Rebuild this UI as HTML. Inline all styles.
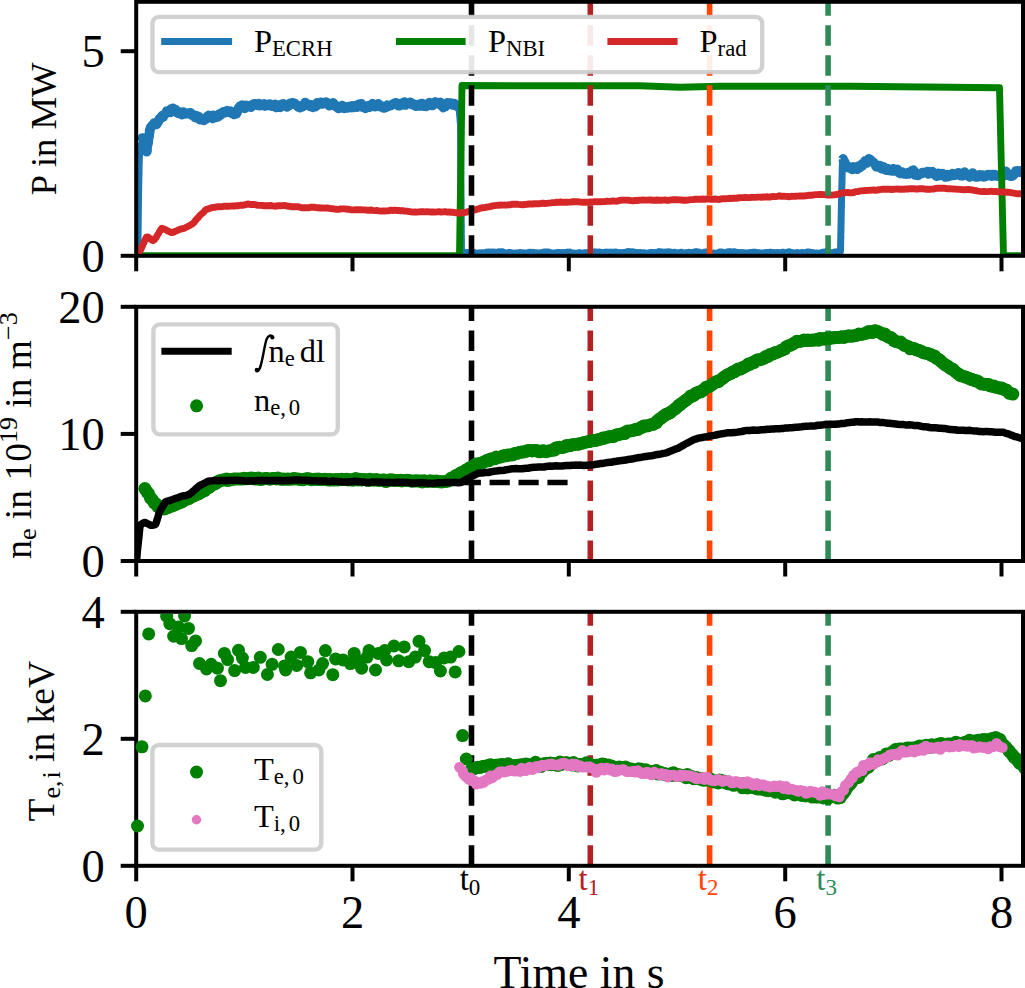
<!DOCTYPE html><html><head><meta charset="utf-8"><style>html,body{margin:0;padding:0;background:#fff;overflow:hidden}svg{display:block}</style></head><body><svg width="1025" height="988" viewBox="0 0 1025 988">
<rect width="1025" height="988" fill="#ffffff"/>
<defs>
<clipPath id="c0"><rect x="136.2" y="1.8" width="886.8" height="254.0"/></clipPath>
<clipPath id="c1"><rect x="136.2" y="306.8" width="886.8" height="254.2"/></clipPath>
<clipPath id="c2"><rect x="136.2" y="611.8" width="886.8" height="254.0"/></clipPath>
</defs>
<g clip-path="url(#c0)" fill="none" stroke-linejoin="round" stroke-linecap="butt">
<path d="M139.7,142.1 L140.6,141.6 L141.4,140.3 L142.3,137.9 L143.0,138.0 L143.3,141.5 L143.6,140.3 L143.9,145.3 L144.2,146.6 L144.5,146.5 L144.8,146.3 L145.1,146.4 L145.4,146.6 L145.7,147.5 L146.0,147.9 L146.3,148.9 L146.6,151.8 L146.8,151.6 L146.9,150.8 L147.1,151.2 L147.2,146.9 L147.4,145.2 L147.5,145.7 L147.7,143.1 L147.8,142.8 L148.0,144.0 L148.1,142.6 L148.3,142.6 L148.4,140.2 L148.6,138.7 L148.7,137.7 L148.8,136.3 L149.0,135.0 L149.1,135.3 L149.2,136.5 L149.4,133.6 L149.5,132.6 L149.6,130.0 L149.7,132.4 L149.9,129.7 L150.0,129.5 L150.1,130.1 L150.6,127.0 L151.5,126.7 L152.4,125.0 L153.3,125.1 L154.2,122.9 L155.0,124.6 L155.9,124.0 L156.8,124.4 L157.7,121.6 L158.5,121.5 L159.2,119.0 L159.9,119.1 L160.5,118.0 L161.2,116.8 L161.9,117.6 L162.5,115.3 L163.2,117.1 L163.8,115.4 L164.5,114.9 L165.2,114.2 L165.9,113.5 L166.7,111.0 L167.5,111.9 L168.3,111.3 L169.1,111.8 L169.9,110.3 L170.7,112.5 L171.4,108.7 L172.2,109.5 L173.1,108.3 L173.9,111.2 L174.8,111.1 L175.7,109.6 L176.5,112.2 L177.4,112.9 L178.3,113.4 L179.1,113.0 L180.0,112.0 L180.8,112.2 L181.7,114.7 L182.7,113.0 L183.7,112.1 L184.7,114.1 L185.7,113.6 L186.7,113.7 L187.7,113.2 L188.7,113.1 L189.7,112.7 L190.7,112.8 L191.6,115.0 L192.5,114.5 L193.4,115.6 L194.3,115.5 L195.2,117.7 L196.1,115.4 L197.0,116.6 L197.9,116.2 L198.9,116.6 L199.8,119.7 L200.8,119.3 L201.7,119.0 L202.7,119.4 L203.7,120.5 L204.7,118.6 L205.7,119.3 L206.7,118.8 L207.6,116.2 L208.6,115.4 L209.6,116.0 L210.6,117.4 L211.6,115.6 L212.6,118.6 L213.6,115.2 L214.6,117.5 L215.6,117.5 L216.6,115.4 L217.5,115.9 L218.3,116.8 L219.2,113.9 L220.0,115.3 L220.8,115.0 L221.6,112.9 L222.4,113.3 L223.2,111.8 L224.1,112.0 L225.1,112.7 L226.1,111.2 L227.1,110.6 L228.1,112.3 L229.1,111.3 L230.1,111.1 L231.1,111.2 L232.1,113.7 L233.1,111.9 L234.1,114.6 L234.9,113.7 L235.7,113.9 L236.4,113.8 L237.1,112.4 L237.9,110.0 L238.6,107.8 L239.4,108.4 L240.1,106.0 L241.0,107.7 L242.0,105.0 L243.0,106.7 L244.0,107.2 L245.0,108.4 L246.0,105.3 L247.0,106.6 L248.0,105.8 L249.0,106.1 L250.0,106.1 L251.0,107.3 L252.0,104.7 L253.0,104.5 L254.0,103.7 L255.0,103.7 L256.0,103.7 L257.0,105.3 L258.0,105.4 L259.0,103.6 L260.0,105.6 L261.0,105.3 L262.0,105.5 L263.0,105.3 L264.0,103.8 L265.0,106.2 L266.0,104.5 L267.0,105.3 L268.0,105.5 L269.0,104.2 L270.0,104.0 L271.0,105.3 L272.0,106.3 L273.0,106.2 L274.0,106.0 L275.0,104.2 L276.1,107.5 L277.1,107.2 L278.1,107.3 L279.1,105.8 L280.1,107.4 L281.1,104.4 L282.1,104.2 L283.1,103.9 L284.1,104.9 L285.1,105.4 L286.1,105.7 L287.1,107.0 L288.1,104.6 L289.1,105.6 L290.1,103.2 L291.1,104.4 L292.1,102.8 L293.1,102.8 L294.1,104.1 L295.1,103.4 L296.1,105.3 L297.1,105.8 L298.1,106.8 L299.1,106.2 L300.1,107.8 L301.1,105.6 L302.1,107.1 L303.1,106.3 L304.2,105.1 L305.2,102.4 L306.2,104.2 L307.2,104.8 L308.2,104.3 L309.2,105.9 L310.2,106.4 L311.2,104.8 L312.2,107.3 L313.2,107.4 L314.2,105.1 L315.2,106.8 L316.2,106.2 L317.2,102.7 L318.2,103.4 L319.2,103.7 L320.2,103.9 L321.2,102.2 L322.2,104.0 L323.2,103.3 L324.2,103.3 L325.2,102.8 L326.2,101.9 L327.2,103.1 L328.2,104.6 L329.2,105.8 L330.2,103.9 L331.2,103.4 L332.2,105.0 L333.2,102.8 L334.2,104.1 L335.2,106.3 L336.2,105.7 L337.2,106.9 L338.2,108.4 L339.2,108.5 L340.2,106.7 L341.2,107.0 L342.2,105.5 L343.2,107.5 L344.2,108.6 L345.2,107.4 L346.2,107.6 L347.2,108.0 L348.2,106.5 L349.2,106.6 L350.2,107.2 L351.2,107.6 L352.2,105.7 L353.2,107.5 L354.2,106.7 L355.2,105.9 L356.3,105.2 L357.3,107.3 L358.3,104.4 L359.3,103.9 L360.3,103.9 L361.3,103.8 L362.3,107.2 L363.3,105.5 L364.3,106.2 L365.3,108.4 L366.3,107.6 L367.3,105.9 L368.3,106.5 L369.3,107.5 L370.3,105.0 L371.3,105.8 L372.3,103.6 L373.3,106.2 L374.3,106.6 L375.3,106.7 L376.3,106.0 L377.3,104.8 L378.3,103.8 L379.3,105.5 L380.3,106.8 L381.3,105.7 L382.3,107.2 L383.3,107.9 L384.3,107.9 L385.3,107.8 L386.3,105.9 L387.3,105.1 L388.3,106.6 L389.3,105.5 L390.3,105.1 L391.3,105.4 L392.3,104.5 L393.4,103.7 L394.4,103.4 L395.4,102.7 L396.4,104.3 L397.4,103.3 L398.4,105.7 L399.4,105.8 L400.4,105.4 L401.4,103.8 L402.4,103.0 L403.4,103.1 L404.4,101.9 L405.4,105.1 L406.4,103.9 L407.4,103.2 L408.4,103.5 L409.4,103.8 L410.4,102.2 L411.4,103.7 L412.4,104.6 L413.4,103.9 L414.4,104.2 L415.4,106.3 L416.4,106.2 L417.4,104.6 L418.4,106.1 L419.4,106.1 L420.4,106.0 L421.4,103.4 L422.4,103.5 L423.4,106.2 L424.4,104.6 L425.4,105.4 L426.4,106.4 L427.4,105.7 L428.4,105.5 L429.4,102.6 L430.4,105.2 L431.4,103.3 L432.4,105.6 L433.4,102.8 L434.4,103.6 L435.4,101.9 L436.4,102.4 L437.4,102.5 L438.4,104.0 L439.4,102.8 L440.4,102.3 L441.4,105.5 L442.4,106.5 L443.4,107.7 L444.4,106.6 L445.4,106.6 L446.4,104.5 L447.4,102.8 L448.4,102.9 L449.4,103.0 L450.5,103.1 L451.5,103.1 L452.5,105.0 L453.5,103.9 L454.5,103.4 L455.4,105.8 L456.3,105.1 L457.2,106.5 L458.1,105.7 L459.0,106.4" stroke="#1f77b4" stroke-width="9.5"/>
<path d="M459.0,108.7 L459.1,109.5 L459.2,110.6 L459.3,111.2 L459.4,111.9 L459.4,112.4 L459.5,113.6 L459.6,114.6 L459.7,115.5 L459.8,116.8 L459.9,117.6 L460.0,118.8 L460.1,119.6 L460.1,120.8 L460.2,121.8 L460.3,122.7 L460.4,123.5 L460.5,125.0 L460.5,125.9 L460.5,126.7 L460.5,127.6 L460.5,128.9 L460.5,129.7 L460.5,131.2 L460.6,132.5 L460.6,133.4 L460.6,134.6 L460.6,135.1 L460.6,135.7 L460.6,136.2 L460.6,137.3 L460.6,138.0 L460.6,139.4 L460.6,140.4 L460.6,141.8 L460.6,142.8 L460.6,143.1 L460.7,144.6 L460.7,145.4 L460.7,146.1 L460.7,147.2 L460.7,147.9 L460.7,149.3 L460.7,150.3 L460.7,151.7 L460.7,152.9 L460.7,154.0 L460.7,155.0 L460.7,155.8 L460.7,156.4 L460.8,157.6 L460.8,158.4 L460.8,159.7 L460.8,161.2 L460.8,161.8 L460.8,163.5 L460.8,164.6 L460.8,165.5 L460.8,166.9 L460.8,167.7 L460.8,169.0 L460.8,169.6 L460.8,170.5 L460.9,171.8 L460.9,172.3 L460.9,172.9 L460.9,174.0 L460.9,174.8 L460.9,176.0 L460.9,177.2 L460.9,178.3 L460.9,178.7 L460.9,179.9 L460.9,181.1 L460.9,181.7 L460.9,183.0 L461.0,183.5 L461.0,184.9 L461.0,185.7 L461.0,187.0 L461.0,188.0 L461.0,189.1 L461.0,189.7 L461.0,191.2 L461.0,191.9 L461.0,193.0 L461.0,194.1 L461.0,195.3 L461.0,196.3 L461.1,197.4 L461.1,197.7 L461.1,198.8 L461.1,200.1 L461.1,201.6 L461.1,202.4 L461.1,203.3 L461.1,204.4 L461.1,205.5 L461.1,206.6 L461.1,207.5 L461.1,208.5 L461.1,209.3 L461.2,209.8 L461.2,210.3 L461.2,211.7 L461.2,213.1 L461.2,214.5 L461.2,215.7 L461.2,216.9 L461.2,217.6 L461.2,218.7 L461.2,219.8 L461.2,220.8 L461.2,221.6 L461.2,222.4 L461.3,223.5 L461.3,224.4 L461.3,225.6 L461.3,226.1 L461.3,226.9 L461.3,228.2 L461.3,228.8 L461.3,230.2 L461.3,231.3 L461.3,232.5 L461.3,233.3 L461.3,234.6 L461.3,235.1 L461.4,236.7 L461.4,237.8 L461.4,238.5 L461.4,239.3 L461.4,240.5 L461.4,241.1 L461.4,241.6 L461.4,242.8 L461.4,243.6 L461.4,244.7 L461.4,245.9 L461.4,246.9 L461.4,247.6 L461.5,248.2 L461.5,249.5 L461.5,250.6 L461.5,252.0 L461.5,252.5 L461.5,253.7 L461.5,255.1 L461.8,254.9 L462.4,254.2 L463.0,253.7 L463.6,252.8 L464.4,252.8 L465.4,252.4 L466.4,252.6 L467.4,252.6 L468.4,253.0 L469.4,252.7 L470.4,253.0 L471.4,252.9 L472.4,252.8 L473.4,252.5 L474.4,252.5 L475.4,252.9 L476.4,253.4 L477.4,253.4 L478.4,252.9 L479.4,253.1 L480.4,252.9 L481.4,252.8 L482.4,252.8 L483.4,253.0 L484.4,252.9 L485.4,252.5 L486.4,252.2 L487.4,252.4 L488.4,252.0 L489.5,252.1 L490.5,252.3 L491.5,251.9 L492.5,251.9 L493.5,252.3 L494.5,252.0 L495.5,252.6 L496.5,252.6 L497.5,252.2 L498.5,252.0 L499.5,251.7 L500.5,252.1 L501.5,251.7 L502.5,251.7 L503.5,252.6 L504.5,252.8 L505.5,253.1 L506.5,253.3 L507.5,252.8 L508.5,252.6 L509.5,252.7 L510.5,252.5 L511.5,252.9 L512.5,253.2 L513.5,253.2 L514.5,253.3 L515.5,252.9 L516.5,253.0 L517.5,253.2 L518.5,252.7 L519.5,252.9 L520.5,252.6 L521.5,253.2 L522.5,252.8 L523.5,253.0 L524.5,253.0 L525.5,253.0 L526.5,253.2 L527.6,253.0 L528.6,252.6 L529.6,252.2 L530.6,252.4 L531.6,252.6 L532.6,252.3 L533.6,253.1 L534.6,252.8 L535.6,252.8 L536.6,252.8 L537.6,252.9 L538.6,253.2 L539.6,253.1 L540.6,252.8 L541.6,252.8 L542.6,252.4 L543.6,252.2 L544.6,252.0 L545.6,252.0 L546.6,251.9 L547.6,252.0 L548.6,252.1 L549.6,252.4 L550.6,252.4 L551.6,253.0 L552.6,253.2 L553.6,253.1 L554.6,253.2 L555.6,253.2 L556.6,252.6 L557.6,252.6 L558.6,252.5 L559.6,252.7 L560.6,253.0 L561.6,252.5 L562.6,253.0 L563.6,252.7 L564.6,252.6 L565.6,252.4 L566.7,252.4 L567.7,252.1 L568.7,252.3 L569.7,252.1 L570.7,252.5 L571.7,252.9 L572.7,252.9 L573.7,253.0 L574.7,253.5 L575.7,253.4 L576.7,253.3 L577.7,252.9 L578.7,253.0 L579.7,252.6 L580.7,253.1 L581.7,253.2 L582.7,253.2 L583.7,253.0 L584.7,252.7 L585.7,252.9 L586.7,252.7 L587.7,252.9 L588.7,252.7 L589.7,252.6 L590.7,252.9 L591.7,252.7 L592.7,252.6 L593.7,252.3 L594.7,251.8 L595.7,252.3 L596.7,252.0 L597.7,252.3 L598.7,252.1 L599.7,252.1 L600.7,252.4 L601.7,252.5 L602.7,252.6 L603.7,252.4 L604.8,252.3 L605.8,252.1 L606.8,252.3 L607.8,252.1 L608.8,252.3 L609.8,252.3 L610.8,252.5 L611.8,252.2 L612.8,252.5 L613.8,252.2 L614.8,252.2 L615.8,252.0 L616.8,252.5 L617.8,252.9 L618.8,252.7 L619.8,252.6 L620.8,252.8 L621.8,252.4 L622.8,253.0 L623.8,252.5 L624.8,252.6 L625.8,252.4 L626.8,251.8 L627.8,251.7 L628.8,251.6 L629.8,251.9 L630.8,252.0 L631.8,251.8 L632.8,252.2 L633.8,252.0 L634.8,252.5 L635.8,252.6 L636.8,252.6 L637.8,252.9 L638.8,252.8 L639.8,252.4 L640.8,252.6 L641.8,252.9 L642.9,253.0 L643.9,252.7 L644.9,252.9 L645.9,253.2 L646.9,253.4 L647.9,253.4 L648.9,252.9 L649.9,252.6 L650.9,252.4 L651.9,252.6 L652.9,252.5 L653.9,252.8 L654.9,252.6 L655.9,252.7 L656.9,252.2 L657.9,252.1 L658.9,251.6 L659.9,252.0 L660.9,252.1 L661.9,252.1 L662.9,252.1 L663.9,252.3 L664.9,252.5 L665.9,252.1 L666.9,251.9 L667.9,252.0 L668.9,251.8 L669.9,252.1 L670.9,252.2 L671.9,252.4 L672.9,252.5 L673.9,252.5 L674.9,252.3 L675.9,252.7 L676.9,252.8 L677.9,252.9 L678.9,252.8 L679.9,252.6 L680.9,252.2 L682.0,252.5 L683.0,252.7 L684.0,253.0 L685.0,253.0 L686.0,252.7 L687.0,252.7 L688.0,252.4 L689.0,252.3 L690.0,252.6 L691.0,252.6 L692.0,252.7 L693.0,252.7 L694.0,252.1 L695.0,252.1 L696.0,251.6 L697.0,251.8 L698.0,252.3 L699.0,252.0 L700.0,252.7 L701.0,253.1 L702.0,252.9 L703.0,252.9 L704.0,252.4 L705.0,252.1 L706.0,252.1 L707.0,251.9 L708.0,252.1 L709.0,252.3 L710.0,253.1 L711.0,252.9 L712.0,253.0 L713.0,253.5 L714.0,253.0 L715.0,253.5 L716.0,253.4 L717.0,253.2 L718.0,252.8 L719.0,252.3 L720.1,251.9 L721.1,251.9 L722.1,252.2 L723.1,252.5 L724.1,253.0 L725.1,252.6 L726.1,252.7 L727.1,252.2 L728.1,251.7 L729.1,251.9 L730.1,251.7 L731.1,251.7 L732.1,252.3 L733.1,251.9 L734.1,251.8 L735.1,251.8 L736.1,252.3 L737.1,252.4 L738.1,252.4 L739.1,252.9 L740.1,252.5 L741.1,252.8 L742.1,252.6 L743.1,252.7 L744.1,252.7 L745.1,252.9 L746.1,253.1 L747.1,253.1 L748.1,252.8 L749.1,253.0 L750.1,252.7 L751.1,252.5 L752.1,252.4 L753.1,252.2 L754.1,252.4 L755.1,252.2 L756.1,252.4 L757.1,252.6 L758.1,252.7 L759.2,252.8 L760.2,252.9 L761.2,252.9 L762.2,253.0 L763.2,253.3 L764.2,252.7 L765.2,252.7 L766.2,252.6 L767.2,252.6 L768.2,252.5 L769.2,252.5 L770.2,252.3 L771.2,252.5 L772.2,252.6 L773.2,252.6 L774.2,252.7 L775.2,252.8 L776.2,252.6 L777.2,252.4 L778.2,252.7 L779.2,253.1 L780.2,253.0 L781.2,252.6 L782.2,252.3 L783.2,252.2 L784.2,252.5 L785.2,252.8 L786.2,252.6 L787.2,252.4 L788.2,251.9 L789.2,251.8 L790.2,252.2 L791.2,252.4 L792.2,253.1 L793.2,252.8 L794.2,252.9 L795.2,252.9 L796.2,252.8 L797.3,252.5 L798.3,252.8 L799.3,253.0 L800.3,252.9 L801.3,252.7 L802.3,252.5 L803.3,253.1 L804.3,252.8 L805.3,252.7 L806.3,252.4 L807.3,252.0 L808.3,252.1 L809.3,252.1 L810.3,252.3 L811.3,252.4 L812.3,252.6 L813.3,252.7 L814.3,253.0 L815.3,253.4 L816.3,253.0 L817.3,253.0 L818.3,253.4 L819.3,253.1 L820.3,252.9 L821.3,252.6 L822.3,252.6 L823.3,252.1 L824.3,252.3 L825.3,252.0 L826.3,251.6 L827.3,251.5 L828.3,252.2 L829.3,252.1 L830.3,252.6 L831.3,252.8 L832.3,252.7 L833.3,252.6 L834.3,252.1 L835.4,252.1 L836.4,251.9 L837.4,251.8 L838.4,252.0 L839.3,251.8 L840.3,251.7 L840.5,251.0 L840.5,249.8 L840.6,249.2 L840.6,248.5 L840.6,247.4 L840.6,246.2 L840.6,244.7 L840.7,243.5 L840.7,242.5 L840.7,241.8 L840.7,240.7 L840.7,239.9 L840.7,238.8 L840.8,238.4 L840.8,237.1 L840.8,235.9 L840.8,234.9 L840.8,233.8 L840.9,232.9 L840.9,231.3 L840.9,230.2 L840.9,229.6 L840.9,229.0 L841.0,228.3 L841.0,227.6 L841.0,226.4 L841.0,225.6 L841.0,224.3 L841.1,222.9 L841.1,221.7 L841.1,220.8 L841.1,220.0 L841.1,219.0 L841.2,217.8 L841.2,217.0 L841.2,216.0 L841.2,215.0 L841.2,214.2 L841.2,213.3 L841.3,212.3 L841.3,211.4 L841.3,210.3 L841.3,209.2 L841.3,208.9 L841.4,208.0 L841.4,206.9 L841.4,205.7 L841.4,204.2 L841.4,203.0 L841.5,201.9 L841.5,200.9 L841.5,200.0 L841.5,198.5 L841.5,197.7 L841.6,196.4 L841.6,195.4 L841.6,194.5 L841.6,193.8 L841.7,192.7 L841.7,192.0 L841.7,190.9 L841.7,190.0 L841.8,188.9 L841.8,188.5 L841.8,187.8 L841.8,186.2 L841.9,185.1 L841.9,183.9 L841.9,183.2 L841.9,182.2 L842.0,181.6 L842.0,180.6 L842.0,179.8 L842.0,178.7 L842.1,177.7 L842.1,176.4 L842.1,175.5 L842.1,174.3 L842.2,173.1 L842.2,171.6 L842.2,171.0 L842.2,169.5 L842.3,168.2 L842.3,167.4 L842.3,166.9 L842.3,166.5 L842.4,165.7 L842.4,164.7 L842.4,163.5 L842.4,162.4 L842.5,160.9 L842.5,159.4" stroke="#1f77b4" stroke-width="7"/>
<path d="M137.8,255.7 L137.8,254.7 L137.8,253.9 L137.8,252.5 L137.8,251.7 L137.9,250.6 L137.9,249.5 L137.9,249.0 L137.9,248.2 L137.9,247.1 L137.9,246.4 L137.9,244.9 L137.9,243.8 L138.0,242.7 L138.0,241.9 L138.0,240.5 L138.0,239.9 L138.0,238.8 L138.0,237.6 L138.0,236.7 L138.0,235.6 L138.1,234.6 L138.1,233.6 L138.1,232.6 L138.1,231.7 L138.1,230.2 L138.1,229.3 L138.1,228.2 L138.1,227.4 L138.2,226.6 L138.2,225.7 L138.2,224.4 L138.2,223.3 L138.2,222.4 L138.2,221.4 L138.2,220.1 L138.2,219.4 L138.3,218.2 L138.3,217.1 L138.3,216.2 L138.3,215.1 L138.3,214.0 L138.3,213.0 L138.3,212.0 L138.3,210.9 L138.4,210.0 L138.4,209.4 L138.4,208.3 L138.4,207.2 L138.4,206.2 L138.4,204.9 L138.4,203.8 L138.4,202.8 L138.5,201.7 L138.5,200.9 L138.5,199.7 L138.5,198.7 L138.5,197.9 L138.5,196.8 L138.5,195.9 L138.5,195.2 L138.6,194.4 L138.6,193.2 L138.6,192.3 L138.6,191.0 L138.6,190.0 L138.6,189.1 L138.7,188.0 L138.7,186.9 L138.7,185.9 L138.7,184.7 L138.7,183.5 L138.8,182.7 L138.8,181.6 L138.8,181.0 L138.8,179.7 L138.9,178.7 L138.9,177.6 L138.9,176.8 L138.9,175.4 L139.0,174.4 L139.0,173.5 L139.0,172.5 L139.0,171.2 L139.0,170.4 L139.1,169.3 L139.1,168.2 L139.1,167.0 L139.1,165.9 L139.2,164.8 L139.2,164.0 L139.2,163.4 L139.2,162.4 L139.3,161.4 L139.3,160.4 L139.3,159.3 L139.3,158.3 L139.4,157.6 L139.4,156.3 L139.4,155.2 L139.4,154.3 L139.4,152.9 L139.5,152.0 L139.5,151.3 L139.5,150.3 L139.5,149.2 L139.6,147.9 L139.6,147.0 L139.6,145.9 L139.6,145.1 L139.7,144.1 L139.7,143.3 L139.7,142.6" stroke="#1f77b4" stroke-width="7"/>
<path d="M842.5,159.8 L843.1,158.8 L843.7,161.6 L844.2,161.1 L844.8,162.1 L845.4,165.4 L846.0,164.6 L846.7,166.5 L847.5,167.4 L848.3,167.8 L849.0,166.8 L849.8,167.6 L850.6,167.2 L851.4,168.8 L852.2,169.5 L853.0,166.8 L853.9,167.2 L854.7,167.7 L855.6,167.2 L856.4,167.0 L857.3,169.3 L858.1,166.4 L859.0,166.6 L859.8,167.7 L860.7,165.0 L861.6,164.2 L862.5,165.8 L863.4,163.9 L864.3,162.1 L865.2,160.7 L866.1,160.9 L867.0,163.1 L867.9,161.4 L868.8,158.8 L869.7,160.3 L870.6,159.7 L871.5,161.6 L872.4,161.5 L873.3,162.3 L874.2,163.0 L875.2,164.6 L876.1,166.8 L877.0,166.9 L877.9,166.2 L878.8,166.8 L879.8,165.4 L880.7,166.7 L881.7,168.9 L882.6,169.0 L883.6,166.8 L884.5,168.2 L885.5,169.4 L886.4,170.3 L887.4,168.4 L888.4,170.3 L889.3,170.0 L890.3,170.7 L891.3,170.9 L892.3,170.0 L893.3,168.7 L894.3,171.1 L895.3,170.5 L896.3,171.0 L897.3,169.3 L898.3,170.7 L899.3,173.1 L900.3,173.6 L901.3,173.4 L902.3,172.1 L903.3,173.4 L904.3,174.0 L905.3,174.1 L906.3,174.2 L907.3,173.6 L908.3,172.6 L909.3,174.1 L910.3,172.9 L911.3,172.3 L912.3,170.3 L913.3,170.1 L914.3,171.1 L915.3,175.0 L916.3,175.2 L917.3,175.1 L918.3,175.4 L919.3,174.3 L920.3,173.8 L921.3,173.8 L922.3,172.5 L923.3,172.7 L924.4,172.6 L925.4,172.4 L926.4,173.0 L927.4,171.5 L928.4,174.1 L929.4,171.6 L930.4,172.2 L931.4,173.1 L932.4,171.6 L933.4,173.2 L934.4,174.5 L935.4,175.0 L936.4,176.2 L937.4,175.7 L938.4,173.2 L939.4,175.7 L940.4,174.8 L941.4,175.3 L942.4,173.5 L943.4,175.0 L944.4,176.3 L945.4,177.0 L946.4,177.0 L947.4,174.6 L948.4,176.5 L949.5,175.3 L950.5,175.4 L951.5,175.7 L952.5,173.6 L953.5,175.2 L954.5,175.2 L955.5,175.2 L956.5,173.8 L957.5,174.2 L958.5,172.7 L959.5,174.8 L960.5,175.7 L961.5,173.7 L962.5,175.9 L963.5,175.1 L964.6,172.0 L965.6,175.2 L966.6,174.5 L967.6,175.0 L968.6,174.8 L969.6,177.1 L970.6,174.5 L971.6,174.2 L972.6,173.0 L973.6,175.2 L974.6,175.4 L975.6,177.0 L976.6,177.0 L977.6,177.0 L978.7,176.0 L979.7,174.7 L980.7,176.5 L981.7,176.0 L982.7,175.1 L983.7,176.9 L984.7,176.8 L985.7,176.5 L986.7,175.2 L987.7,174.5 L988.7,175.2 L989.7,174.6 L990.7,175.7 L991.7,176.2 L992.8,174.4 L993.8,175.5 L994.8,174.7 L995.8,175.6 L996.8,176.2 L997.8,175.6 L998.8,175.9 L999.8,175.9 L1000.8,174.5 L1001.8,174.8 L1002.8,176.2 L1003.8,175.9 L1004.8,172.1 L1005.8,171.2 L1006.8,174.0 L1007.9,174.0 L1008.9,174.0 L1009.9,176.3 L1010.9,176.2 L1011.9,176.2 L1012.9,175.6 L1013.9,174.7 L1014.9,173.7 L1015.9,170.9 L1016.9,171.9 L1017.9,170.8 L1018.9,171.9 L1019.9,172.2 L1020.9,170.7 L1021.9,172.4 L1023.0,171.1 L1024.0,172.2 L1025.0,170.8 L1026.0,172.4 L1027.0,175.3 L1028.0,175.7 L1029.0,174.4 L1030.0,175.3" stroke="#1f77b4" stroke-width="9.5"/>
<path d="M130.0,255.8 L459.5,255.8 L462.0,85.5 L520.0,85.8 L640.0,85.8 L680.0,87.3 L720.0,86.3 L850.0,86.2 L999.5,87.8 L1003.5,255.8 L1030.0,255.8" stroke="#008000" stroke-width="6.9"/>
<path d="M138.5,254.2 L139.4,252.0 L140.3,250.5 L141.1,248.8 L142.0,246.9 L142.9,244.8 L143.8,243.0 L144.6,240.7 L145.5,238.9 L146.4,237.1 L147.7,236.9 L149.4,238.1 L151.1,239.6 L152.8,240.6 L154.2,239.9 L155.2,238.6 L156.3,237.1 L157.4,235.2 L158.5,233.5 L159.6,231.6 L160.7,229.5 L161.9,228.2 L163.8,228.9 L165.7,229.7 L167.5,230.8 L169.4,231.7 L171.3,232.6 L173.2,232.4 L175.1,231.4 L177.0,230.6 L178.9,229.8 L180.8,229.1 L182.8,228.6 L184.7,228.1 L186.4,227.1 L188.2,226.3 L189.9,225.4 L191.7,224.3 L193.2,223.3 L194.4,221.9 L195.7,220.2 L197.0,218.6 L198.3,217.5 L199.6,215.7 L200.9,214.5 L202.3,213.4 L203.7,212.2 L205.1,210.3 L206.5,209.3 L208.5,208.8 L210.5,208.1 L212.4,207.5 L214.4,207.4 L216.4,206.9 L218.4,206.7 L220.4,206.8 L222.4,206.6 L224.4,206.2 L226.4,206.2 L228.4,206.2 L230.4,206.1 L232.4,205.9 L234.4,206.0 L236.4,205.8 L238.4,205.8 L240.4,205.2 L242.4,205.3 L244.4,204.9 L246.4,204.4 L248.4,204.0 L250.4,204.5 L252.4,204.5 L254.5,204.5 L256.5,205.0 L258.5,205.4 L260.5,205.4 L262.5,205.5 L264.5,205.7 L266.5,205.8 L268.5,205.7 L270.5,205.5 L272.5,205.9 L274.5,206.2 L276.5,206.0 L278.5,205.8 L280.5,205.8 L282.5,205.6 L284.5,205.5 L286.5,205.8 L288.6,206.3 L290.6,206.5 L292.6,206.8 L294.6,206.8 L296.6,206.8 L298.6,206.8 L300.6,207.5 L302.6,207.7 L304.6,207.8 L306.6,207.7 L308.6,207.9 L310.6,207.3 L312.6,207.2 L314.6,207.3 L316.6,207.7 L318.6,207.8 L320.6,208.0 L322.6,208.0 L324.7,208.1 L326.7,208.0 L328.7,208.2 L330.7,208.6 L332.7,208.7 L334.7,209.1 L336.7,209.3 L338.7,209.4 L340.7,208.9 L342.7,208.9 L344.7,208.9 L346.7,209.2 L348.7,209.3 L350.7,209.7 L352.8,209.9 L354.8,209.8 L356.8,209.6 L358.8,209.8 L360.8,209.8 L362.8,209.9 L364.8,209.9 L366.8,210.2 L368.8,210.2 L370.8,210.0 L372.8,210.4 L374.8,210.6 L376.8,210.5 L378.8,210.8 L380.9,211.1 L382.9,210.9 L384.9,211.0 L386.9,210.9 L388.9,210.7 L390.9,210.2 L392.9,210.5 L394.9,210.2 L396.9,210.5 L398.9,210.5 L400.9,210.8 L402.9,210.7 L404.9,211.1 L406.9,211.1 L409.0,211.6 L411.0,211.8 L413.0,212.1 L415.0,212.0 L417.0,212.1 L419.0,211.9 L421.0,211.8 L423.0,211.7 L425.0,211.9 L427.0,211.8 L429.0,211.9 L431.0,212.0 L433.0,211.9 L435.1,212.1 L437.1,211.9 L439.1,211.7 L441.1,212.1 L443.1,211.9 L445.1,211.7 L447.1,212.1 L449.1,212.0 L451.1,212.2 L453.1,212.3 L455.1,212.7 L457.1,212.8 L459.1,213.3 L461.1,212.7 L463.1,212.9 L465.1,212.3 L467.1,212.0 L469.1,211.4 L471.1,211.0 L473.0,210.5 L474.9,210.0 L476.9,209.2 L478.8,208.8 L480.7,208.1 L482.7,207.7 L484.7,207.6 L486.6,207.1 L488.6,206.8 L490.6,206.5 L492.6,205.9 L494.6,205.6 L496.6,205.4 L498.5,205.3 L500.5,205.0 L502.5,205.1 L504.5,205.0 L506.5,205.1 L508.6,204.8 L510.6,204.7 L512.6,204.2 L514.6,204.2 L516.6,204.1 L518.6,204.4 L520.6,204.6 L522.6,204.7 L524.6,204.5 L526.6,204.4 L528.6,204.0 L530.6,203.9 L532.6,204.0 L534.6,203.8 L536.6,203.6 L538.6,203.7 L540.7,203.5 L542.7,203.2 L544.7,203.5 L546.7,203.4 L548.7,203.1 L550.7,202.9 L552.7,202.6 L554.7,202.5 L556.7,202.3 L558.7,202.2 L560.7,202.0 L562.7,202.4 L564.7,202.2 L566.7,202.3 L568.8,202.1 L570.8,202.1 L572.8,201.7 L574.8,201.7 L576.8,201.7 L578.8,201.8 L580.8,202.1 L582.8,202.3 L584.8,202.3 L586.8,202.2 L588.8,202.1 L590.8,201.9 L592.8,201.9 L594.9,201.6 L596.9,201.7 L598.9,201.8 L600.9,201.8 L602.9,201.6 L604.9,201.6 L606.9,201.2 L608.9,201.4 L610.9,201.2 L612.9,200.9 L614.9,201.1 L616.9,201.2 L618.9,200.6 L621.0,200.2 L623.0,200.1 L625.0,200.1 L627.0,200.1 L629.0,200.3 L631.0,200.6 L633.0,200.9 L635.0,200.5 L637.0,200.5 L639.0,200.3 L641.0,200.1 L643.0,199.9 L645.1,200.1 L647.1,200.1 L649.1,200.0 L651.1,200.0 L653.1,200.4 L655.1,200.2 L657.1,200.0 L659.1,200.2 L661.1,200.3 L663.1,200.1 L665.1,200.0 L667.1,200.4 L669.1,200.2 L671.2,199.9 L673.2,199.7 L675.2,199.8 L677.2,199.7 L679.2,199.9 L681.2,200.0 L683.2,200.2 L685.2,200.2 L687.2,200.2 L689.2,199.9 L691.2,199.6 L693.2,199.5 L695.3,199.3 L697.3,199.1 L699.3,199.2 L701.3,199.3 L703.3,199.0 L705.3,199.3 L707.3,198.9 L709.3,199.0 L711.3,199.3 L713.3,199.3 L715.3,199.0 L717.3,199.4 L719.3,199.5 L721.3,198.9 L723.3,198.8 L725.4,198.7 L727.4,198.6 L729.4,198.3 L731.4,198.5 L733.4,198.3 L735.4,198.3 L737.4,198.0 L739.4,197.8 L741.4,197.6 L743.4,197.6 L745.4,197.3 L747.4,197.6 L749.4,197.6 L751.4,197.3 L753.4,197.4 L755.5,197.4 L757.5,197.1 L759.5,197.1 L761.5,197.3 L763.5,197.0 L765.5,197.0 L767.5,196.8 L769.5,197.1 L771.5,196.6 L773.5,196.5 L775.5,196.6 L777.5,196.4 L779.5,195.8 L781.5,196.3 L783.6,196.2 L785.6,196.4 L787.6,196.5 L789.6,196.7 L791.6,196.3 L793.6,196.4 L795.6,196.2 L797.6,196.1 L799.6,196.0 L801.6,195.9 L803.6,196.0 L805.6,195.8 L807.6,195.5 L809.6,195.3 L811.6,195.3 L813.7,194.9 L815.7,194.6 L817.7,194.6 L819.7,194.5 L821.7,194.5 L823.7,194.6 L825.7,194.6 L827.7,195.0 L829.7,194.9 L831.7,195.1 L833.7,194.9 L835.7,194.8 L837.7,194.2 L839.7,193.6 L841.7,193.0 L843.7,192.6 L845.7,192.7 L847.7,192.4 L849.7,192.9 L851.7,192.7 L853.7,192.5 L855.7,191.6 L857.7,191.6 L859.7,191.0 L861.7,190.9 L863.7,190.6 L865.7,190.5 L867.7,190.4 L869.6,190.3 L871.6,190.1 L873.6,190.0 L875.6,190.2 L877.6,190.0 L879.6,189.6 L881.7,189.3 L883.7,189.3 L885.7,189.2 L887.7,189.2 L889.7,189.3 L891.7,189.5 L893.7,189.3 L895.7,189.1 L897.7,189.0 L899.7,189.3 L901.7,189.3 L903.7,189.2 L905.8,189.0 L907.8,189.0 L909.8,188.7 L911.8,188.8 L913.8,188.8 L915.8,189.0 L917.8,189.0 L919.8,188.7 L921.8,188.8 L923.8,188.8 L925.8,189.2 L927.8,189.1 L929.9,189.2 L931.9,189.1 L933.9,189.0 L935.9,188.4 L937.9,188.3 L939.9,188.3 L941.9,188.2 L943.9,188.2 L945.9,188.5 L947.9,188.8 L949.9,188.8 L951.9,188.9 L953.9,189.0 L955.9,189.1 L957.9,189.3 L959.9,189.4 L961.9,189.6 L964.0,189.7 L966.0,189.6 L968.0,189.5 L970.0,189.7 L972.0,189.9 L974.0,190.3 L976.0,190.7 L978.0,191.1 L980.0,191.4 L982.0,191.6 L984.0,191.4 L986.0,191.6 L988.0,191.6 L990.0,191.4 L992.0,191.3 L994.0,191.6 L996.0,191.5 L998.0,191.8 L1000.0,191.9 L1002.0,192.0 L1004.0,192.0 L1006.0,192.2 L1008.0,192.1 L1010.0,192.4 L1012.0,192.9 L1014.0,193.2 L1016.0,193.6 L1018.0,193.7 L1020.0,193.7 L1022.0,193.6 L1024.0,193.6 L1026.0,193.9 L1028.0,194.1 L1030.0,194.8" stroke="#d62728" stroke-width="6.9"/>
</g>
<path d="M471.5,561.0 L471.5,306.8" stroke="#000000" stroke-width="5.6" stroke-dasharray="20.6 9.4" fill="none"/>
<path d="M590.3,561.0 L590.3,306.8" stroke="#b22222" stroke-width="5.6" stroke-dasharray="20.6 9.4" fill="none"/>
<path d="M709.6,561.0 L709.6,306.8" stroke="#ff4500" stroke-width="5.6" stroke-dasharray="20.6 9.4" fill="none"/>
<path d="M828.1,561.0 L828.1,306.8" stroke="#2e8b57" stroke-width="5.6" stroke-dasharray="20.6 9.4" fill="none"/>
<path d="M471.5,865.8 L471.5,611.8" stroke="#000000" stroke-width="5.6" stroke-dasharray="20.6 9.4" fill="none"/>
<path d="M590.3,865.8 L590.3,611.8" stroke="#b22222" stroke-width="5.6" stroke-dasharray="20.6 9.4" fill="none"/>
<path d="M709.6,865.8 L709.6,611.8" stroke="#ff4500" stroke-width="5.6" stroke-dasharray="20.6 9.4" fill="none"/>
<path d="M828.1,865.8 L828.1,611.8" stroke="#2e8b57" stroke-width="5.6" stroke-dasharray="20.6 9.4" fill="none"/>
<g clip-path="url(#c1)">
<g fill="#008000"><circle cx="144.9" cy="488.6" r="6.5"/><circle cx="146.9" cy="491.8" r="6.5"/><circle cx="148.7" cy="493.9" r="6.5"/><circle cx="150.3" cy="497.8" r="6.5"/><circle cx="152.2" cy="499.7" r="6.5"/><circle cx="154.2" cy="502.8" r="6.5"/><circle cx="156.2" cy="504.1" r="6.5"/><circle cx="157.9" cy="506.6" r="6.5"/><circle cx="160.7" cy="506.7" r="6.5"/><circle cx="162.8" cy="508.1" r="6.5"/><circle cx="164.3" cy="508.9" r="6.5"/><circle cx="166.8" cy="508.0" r="6.5"/><circle cx="168.0" cy="507.3" r="6.5"/><circle cx="170.8" cy="506.5" r="6.5"/><circle cx="172.9" cy="505.5" r="6.5"/><circle cx="174.5" cy="505.0" r="6.5"/><circle cx="176.9" cy="504.0" r="6.5"/><circle cx="178.6" cy="502.9" r="6.5"/><circle cx="180.6" cy="502.5" r="6.5"/><circle cx="182.3" cy="501.7" r="6.5"/><circle cx="183.7" cy="500.1" r="6.5"/><circle cx="185.8" cy="499.4" r="6.5"/><circle cx="188.7" cy="498.7" r="6.5"/><circle cx="189.9" cy="497.6" r="6.5"/><circle cx="192.5" cy="496.3" r="6.5"/><circle cx="193.8" cy="495.8" r="6.5"/><circle cx="196.6" cy="494.7" r="6.5"/><circle cx="198.9" cy="493.6" r="6.5"/><circle cx="200.5" cy="492.1" r="6.5"/><circle cx="201.7" cy="491.9" r="6.5"/><circle cx="204.6" cy="490.7" r="6.5"/><circle cx="206.3" cy="488.6" r="6.5"/><circle cx="208.8" cy="487.5" r="6.5"/><circle cx="209.8" cy="486.8" r="6.5"/><circle cx="212.0" cy="484.8" r="6.5"/><circle cx="214.9" cy="484.0" r="6.5"/><circle cx="216.7" cy="482.6" r="6.5"/><circle cx="218.8" cy="481.1" r="6.5"/><circle cx="220.3" cy="480.7" r="6.5"/><circle cx="222.5" cy="479.9" r="6.5"/><circle cx="224.9" cy="480.0" r="6.5"/><circle cx="226.5" cy="479.1" r="6.5"/><circle cx="227.7" cy="480.5" r="6.5"/><circle cx="229.8" cy="479.9" r="6.5"/><circle cx="231.6" cy="479.5" r="6.5"/><circle cx="233.8" cy="478.9" r="6.5"/><circle cx="235.7" cy="478.9" r="6.5"/><circle cx="238.1" cy="479.0" r="6.5"/><circle cx="240.5" cy="478.9" r="6.5"/><circle cx="242.8" cy="478.9" r="6.5"/><circle cx="244.2" cy="478.2" r="6.5"/><circle cx="245.8" cy="478.8" r="6.5"/><circle cx="248.8" cy="478.4" r="6.5"/><circle cx="250.9" cy="478.1" r="6.5"/><circle cx="252.9" cy="478.2" r="6.5"/><circle cx="253.7" cy="478.8" r="6.5"/><circle cx="256.4" cy="479.1" r="6.5"/><circle cx="258.5" cy="478.1" r="6.5"/><circle cx="260.3" cy="479.4" r="6.5"/><circle cx="261.9" cy="479.3" r="6.5"/><circle cx="264.9" cy="478.6" r="6.5"/><circle cx="266.3" cy="478.6" r="6.5"/><circle cx="267.7" cy="478.7" r="6.5"/><circle cx="270.1" cy="479.2" r="6.5"/><circle cx="272.6" cy="478.6" r="6.5"/><circle cx="273.9" cy="478.4" r="6.5"/><circle cx="276.7" cy="479.0" r="6.5"/><circle cx="277.9" cy="478.0" r="6.5"/><circle cx="280.2" cy="478.9" r="6.5"/><circle cx="282.0" cy="479.3" r="6.5"/><circle cx="283.8" cy="479.0" r="6.5"/><circle cx="286.8" cy="479.2" r="6.5"/><circle cx="288.1" cy="479.1" r="6.5"/><circle cx="290.6" cy="479.2" r="6.5"/><circle cx="292.8" cy="479.0" r="6.5"/><circle cx="294.0" cy="478.6" r="6.5"/><circle cx="295.6" cy="478.9" r="6.5"/><circle cx="298.3" cy="479.0" r="6.5"/><circle cx="299.9" cy="479.5" r="6.5"/><circle cx="302.8" cy="479.7" r="6.5"/><circle cx="303.9" cy="479.2" r="6.5"/><circle cx="306.6" cy="478.8" r="6.5"/><circle cx="307.7" cy="478.8" r="6.5"/><circle cx="310.0" cy="479.1" r="6.5"/><circle cx="311.9" cy="479.7" r="6.5"/><circle cx="314.8" cy="479.3" r="6.5"/><circle cx="316.4" cy="479.2" r="6.5"/><circle cx="318.5" cy="479.0" r="6.5"/><circle cx="319.7" cy="479.6" r="6.5"/><circle cx="322.0" cy="479.4" r="6.5"/><circle cx="324.8" cy="479.3" r="6.5"/><circle cx="326.5" cy="479.4" r="6.5"/><circle cx="328.6" cy="480.1" r="6.5"/><circle cx="330.3" cy="479.4" r="6.5"/><circle cx="331.9" cy="480.1" r="6.5"/><circle cx="334.9" cy="480.0" r="6.5"/><circle cx="336.0" cy="479.5" r="6.5"/><circle cx="337.9" cy="479.9" r="6.5"/><circle cx="340.5" cy="479.5" r="6.5"/><circle cx="341.7" cy="479.3" r="6.5"/><circle cx="344.7" cy="479.5" r="6.5"/><circle cx="346.6" cy="479.3" r="6.5"/><circle cx="348.1" cy="479.9" r="6.5"/><circle cx="350.3" cy="479.7" r="6.5"/><circle cx="352.3" cy="480.0" r="6.5"/><circle cx="353.7" cy="480.1" r="6.5"/><circle cx="355.7" cy="478.6" r="6.5"/><circle cx="358.1" cy="480.0" r="6.5"/><circle cx="359.6" cy="479.2" r="6.5"/><circle cx="361.9" cy="480.0" r="6.5"/><circle cx="364.1" cy="479.6" r="6.5"/><circle cx="366.5" cy="480.0" r="6.5"/><circle cx="368.3" cy="480.5" r="6.5"/><circle cx="369.9" cy="479.3" r="6.5"/><circle cx="372.6" cy="480.1" r="6.5"/><circle cx="374.7" cy="480.1" r="6.5"/><circle cx="376.5" cy="479.4" r="6.5"/><circle cx="378.6" cy="480.4" r="6.5"/><circle cx="380.0" cy="480.2" r="6.5"/><circle cx="382.8" cy="480.1" r="6.5"/><circle cx="384.4" cy="480.0" r="6.5"/><circle cx="385.9" cy="481.6" r="6.5"/><circle cx="388.5" cy="480.2" r="6.5"/><circle cx="390.5" cy="479.7" r="6.5"/><circle cx="392.4" cy="480.1" r="6.5"/><circle cx="394.3" cy="480.3" r="6.5"/><circle cx="396.7" cy="480.4" r="6.5"/><circle cx="398.6" cy="480.5" r="6.5"/><circle cx="400.4" cy="480.2" r="6.5"/><circle cx="401.7" cy="480.9" r="6.5"/><circle cx="403.9" cy="480.5" r="6.5"/><circle cx="406.9" cy="480.2" r="6.5"/><circle cx="408.2" cy="480.4" r="6.5"/><circle cx="410.5" cy="480.7" r="6.5"/><circle cx="411.8" cy="481.2" r="6.5"/><circle cx="414.4" cy="481.1" r="6.5"/><circle cx="416.4" cy="480.8" r="6.5"/><circle cx="418.6" cy="481.0" r="6.5"/><circle cx="420.9" cy="481.1" r="6.5"/><circle cx="422.2" cy="481.9" r="6.5"/><circle cx="424.1" cy="480.8" r="6.5"/><circle cx="425.8" cy="481.3" r="6.5"/><circle cx="428.1" cy="481.4" r="6.5"/><circle cx="430.2" cy="480.8" r="6.5"/><circle cx="432.9" cy="481.3" r="6.5"/><circle cx="434.3" cy="481.3" r="6.5"/><circle cx="436.5" cy="481.1" r="6.5"/><circle cx="438.6" cy="481.6" r="6.5"/><circle cx="439.7" cy="481.8" r="6.5"/><circle cx="441.9" cy="481.9" r="6.5"/><circle cx="444.4" cy="481.4" r="6.5"/><circle cx="445.7" cy="481.4" r="6.5"/><circle cx="447.8" cy="481.1" r="6.5"/><circle cx="450.6" cy="478.5" r="6.5"/><circle cx="452.5" cy="477.9" r="6.5"/><circle cx="453.8" cy="477.0" r="6.5"/><circle cx="455.8" cy="475.5" r="6.5"/><circle cx="458.8" cy="474.5" r="6.5"/><circle cx="460.3" cy="473.2" r="6.5"/><circle cx="462.1" cy="472.2" r="6.5"/><circle cx="464.6" cy="471.3" r="6.5"/><circle cx="466.5" cy="469.7" r="6.5"/><circle cx="469.0" cy="468.8" r="6.5"/><circle cx="469.8" cy="467.7" r="6.5"/><circle cx="472.7" cy="466.5" r="6.5"/><circle cx="474.2" cy="465.6" r="6.5"/><circle cx="476.0" cy="464.1" r="6.5"/><circle cx="478.3" cy="464.0" r="6.5"/><circle cx="479.7" cy="463.6" r="6.5"/><circle cx="481.8" cy="462.9" r="6.5"/><circle cx="483.8" cy="462.1" r="6.5"/><circle cx="486.6" cy="460.5" r="6.5"/><circle cx="488.6" cy="460.8" r="6.5"/><circle cx="490.0" cy="459.2" r="6.5"/><circle cx="492.0" cy="458.8" r="6.5"/><circle cx="494.7" cy="458.8" r="6.5"/><circle cx="496.2" cy="457.1" r="6.5"/><circle cx="498.1" cy="457.5" r="6.5"/><circle cx="500.9" cy="456.9" r="6.5"/><circle cx="502.4" cy="456.3" r="6.5"/><circle cx="504.4" cy="455.6" r="6.5"/><circle cx="506.4" cy="455.7" r="6.5"/><circle cx="507.7" cy="454.9" r="6.5"/><circle cx="510.2" cy="455.1" r="6.5"/><circle cx="512.7" cy="454.8" r="6.5"/><circle cx="514.5" cy="453.4" r="6.5"/><circle cx="516.8" cy="453.3" r="6.5"/><circle cx="518.0" cy="453.0" r="6.5"/><circle cx="520.3" cy="452.2" r="6.5"/><circle cx="521.9" cy="451.9" r="6.5"/><circle cx="523.9" cy="451.9" r="6.5"/><circle cx="525.8" cy="451.4" r="6.5"/><circle cx="527.9" cy="450.4" r="6.5"/><circle cx="529.9" cy="450.5" r="6.5"/><circle cx="532.2" cy="451.0" r="6.5"/><circle cx="534.2" cy="450.4" r="6.5"/><circle cx="536.7" cy="450.6" r="6.5"/><circle cx="538.7" cy="451.7" r="6.5"/><circle cx="540.4" cy="451.7" r="6.5"/><circle cx="542.5" cy="450.7" r="6.5"/><circle cx="544.3" cy="450.9" r="6.5"/><circle cx="546.0" cy="451.7" r="6.5"/><circle cx="548.3" cy="451.0" r="6.5"/><circle cx="550.5" cy="450.7" r="6.5"/><circle cx="552.9" cy="450.1" r="6.5"/><circle cx="554.7" cy="449.9" r="6.5"/><circle cx="555.7" cy="448.0" r="6.5"/><circle cx="558.5" cy="447.6" r="6.5"/><circle cx="559.8" cy="447.3" r="6.5"/><circle cx="562.5" cy="447.6" r="6.5"/><circle cx="564.8" cy="446.6" r="6.5"/><circle cx="566.6" cy="445.4" r="6.5"/><circle cx="567.8" cy="445.9" r="6.5"/><circle cx="570.2" cy="445.6" r="6.5"/><circle cx="571.9" cy="444.8" r="6.5"/><circle cx="574.5" cy="444.4" r="6.5"/><circle cx="576.6" cy="444.3" r="6.5"/><circle cx="578.6" cy="444.2" r="6.5"/><circle cx="580.1" cy="443.4" r="6.5"/><circle cx="582.4" cy="443.2" r="6.5"/><circle cx="583.9" cy="442.5" r="6.5"/><circle cx="586.9" cy="442.0" r="6.5"/><circle cx="588.9" cy="441.4" r="6.5"/><circle cx="589.7" cy="441.5" r="6.5"/><circle cx="592.4" cy="440.8" r="6.5"/><circle cx="594.6" cy="440.4" r="6.5"/><circle cx="595.9" cy="440.4" r="6.5"/><circle cx="597.7" cy="439.7" r="6.5"/><circle cx="599.6" cy="439.4" r="6.5"/><circle cx="602.6" cy="438.0" r="6.5"/><circle cx="603.6" cy="438.4" r="6.5"/><circle cx="606.1" cy="437.4" r="6.5"/><circle cx="608.7" cy="436.9" r="6.5"/><circle cx="609.7" cy="436.4" r="6.5"/><circle cx="612.6" cy="436.7" r="6.5"/><circle cx="614.2" cy="436.1" r="6.5"/><circle cx="616.2" cy="435.0" r="6.5"/><circle cx="618.3" cy="434.4" r="6.5"/><circle cx="620.1" cy="434.2" r="6.5"/><circle cx="622.8" cy="433.4" r="6.5"/><circle cx="624.5" cy="433.6" r="6.5"/><circle cx="626.2" cy="431.7" r="6.5"/><circle cx="627.8" cy="431.0" r="6.5"/><circle cx="630.3" cy="431.0" r="6.5"/><circle cx="633.0" cy="430.4" r="6.5"/><circle cx="634.8" cy="429.8" r="6.5"/><circle cx="635.7" cy="429.5" r="6.5"/><circle cx="638.1" cy="429.4" r="6.5"/><circle cx="640.3" cy="427.8" r="6.5"/><circle cx="642.2" cy="427.1" r="6.5"/><circle cx="643.8" cy="425.9" r="6.5"/><circle cx="645.9" cy="426.1" r="6.5"/><circle cx="648.3" cy="425.7" r="6.5"/><circle cx="650.6" cy="424.7" r="6.5"/><circle cx="652.6" cy="424.6" r="6.5"/><circle cx="654.5" cy="423.4" r="6.5"/><circle cx="656.5" cy="422.6" r="6.5"/><circle cx="657.6" cy="420.7" r="6.5"/><circle cx="659.9" cy="418.8" r="6.5"/><circle cx="662.1" cy="417.5" r="6.5"/><circle cx="664.0" cy="415.8" r="6.5"/><circle cx="666.2" cy="414.3" r="6.5"/><circle cx="668.2" cy="413.7" r="6.5"/><circle cx="670.1" cy="412.6" r="6.5"/><circle cx="671.6" cy="411.5" r="6.5"/><circle cx="674.8" cy="409.1" r="6.5"/><circle cx="676.9" cy="407.5" r="6.5"/><circle cx="678.5" cy="405.5" r="6.5"/><circle cx="680.0" cy="404.8" r="6.5"/><circle cx="682.2" cy="402.9" r="6.5"/><circle cx="684.8" cy="401.0" r="6.5"/><circle cx="686.4" cy="399.9" r="6.5"/><circle cx="688.6" cy="398.2" r="6.5"/><circle cx="690.6" cy="396.0" r="6.5"/><circle cx="692.9" cy="395.9" r="6.5"/><circle cx="694.5" cy="394.6" r="6.5"/><circle cx="695.8" cy="393.3" r="6.5"/><circle cx="698.3" cy="392.2" r="6.5"/><circle cx="700.9" cy="392.0" r="6.5"/><circle cx="701.8" cy="390.8" r="6.5"/><circle cx="703.7" cy="389.8" r="6.5"/><circle cx="705.7" cy="387.6" r="6.5"/><circle cx="707.7" cy="386.7" r="6.5"/><circle cx="709.9" cy="386.2" r="6.5"/><circle cx="712.7" cy="384.1" r="6.5"/><circle cx="714.4" cy="383.0" r="6.5"/><circle cx="716.6" cy="381.4" r="6.5"/><circle cx="718.4" cy="381.6" r="6.5"/><circle cx="720.1" cy="380.0" r="6.5"/><circle cx="722.7" cy="378.5" r="6.5"/><circle cx="723.9" cy="377.2" r="6.5"/><circle cx="726.1" cy="375.7" r="6.5"/><circle cx="728.2" cy="374.4" r="6.5"/><circle cx="730.5" cy="373.6" r="6.5"/><circle cx="732.6" cy="372.0" r="6.5"/><circle cx="734.4" cy="371.8" r="6.5"/><circle cx="736.4" cy="370.2" r="6.5"/><circle cx="738.0" cy="369.1" r="6.5"/><circle cx="740.4" cy="369.1" r="6.5"/><circle cx="742.8" cy="367.6" r="6.5"/><circle cx="744.2" cy="367.0" r="6.5"/><circle cx="746.6" cy="365.7" r="6.5"/><circle cx="748.3" cy="364.0" r="6.5"/><circle cx="750.3" cy="364.2" r="6.5"/><circle cx="752.4" cy="362.5" r="6.5"/><circle cx="753.8" cy="362.6" r="6.5"/><circle cx="755.9" cy="360.7" r="6.5"/><circle cx="757.9" cy="359.7" r="6.5"/><circle cx="760.3" cy="359.7" r="6.5"/><circle cx="762.5" cy="358.8" r="6.5"/><circle cx="764.6" cy="357.8" r="6.5"/><circle cx="765.9" cy="356.4" r="6.5"/><circle cx="768.1" cy="356.4" r="6.5"/><circle cx="769.8" cy="354.6" r="6.5"/><circle cx="772.5" cy="354.1" r="6.5"/><circle cx="774.2" cy="353.1" r="6.5"/><circle cx="776.0" cy="352.4" r="6.5"/><circle cx="777.9" cy="352.0" r="6.5"/><circle cx="780.9" cy="350.5" r="6.5"/><circle cx="782.3" cy="349.9" r="6.5"/><circle cx="785.0" cy="348.9" r="6.5"/><circle cx="786.1" cy="346.9" r="6.5"/><circle cx="787.9" cy="346.0" r="6.5"/><circle cx="790.6" cy="345.2" r="6.5"/><circle cx="792.8" cy="344.0" r="6.5"/><circle cx="793.9" cy="343.3" r="6.5"/><circle cx="796.8" cy="341.3" r="6.5"/><circle cx="798.4" cy="341.4" r="6.5"/><circle cx="800.8" cy="341.2" r="6.5"/><circle cx="802.9" cy="340.7" r="6.5"/><circle cx="804.2" cy="340.1" r="6.5"/><circle cx="806.9" cy="340.5" r="6.5"/><circle cx="807.9" cy="340.1" r="6.5"/><circle cx="810.2" cy="340.4" r="6.5"/><circle cx="812.2" cy="340.0" r="6.5"/><circle cx="814.0" cy="340.2" r="6.5"/><circle cx="816.3" cy="339.6" r="6.5"/><circle cx="818.6" cy="340.2" r="6.5"/><circle cx="819.8" cy="338.5" r="6.5"/><circle cx="822.3" cy="338.8" r="6.5"/><circle cx="824.3" cy="339.2" r="6.5"/><circle cx="825.9" cy="338.2" r="6.5"/><circle cx="828.5" cy="338.8" r="6.5"/><circle cx="830.0" cy="337.8" r="6.5"/><circle cx="832.4" cy="338.1" r="6.5"/><circle cx="834.4" cy="337.5" r="6.5"/><circle cx="836.6" cy="337.4" r="6.5"/><circle cx="838.9" cy="337.4" r="6.5"/><circle cx="840.9" cy="337.1" r="6.5"/><circle cx="842.3" cy="336.7" r="6.5"/><circle cx="844.0" cy="337.5" r="6.5"/><circle cx="846.0" cy="336.4" r="6.5"/><circle cx="848.7" cy="335.8" r="6.5"/><circle cx="850.6" cy="336.3" r="6.5"/><circle cx="852.7" cy="335.9" r="6.5"/><circle cx="854.7" cy="335.7" r="6.5"/><circle cx="856.4" cy="335.5" r="6.5"/><circle cx="858.8" cy="334.1" r="6.5"/><circle cx="860.5" cy="334.5" r="6.5"/><circle cx="862.5" cy="334.2" r="6.5"/><circle cx="864.7" cy="333.4" r="6.5"/><circle cx="866.5" cy="333.1" r="6.5"/><circle cx="868.7" cy="331.4" r="6.5"/><circle cx="870.9" cy="332.0" r="6.5"/><circle cx="872.2" cy="332.6" r="6.5"/><circle cx="874.6" cy="330.8" r="6.5"/><circle cx="876.0" cy="330.9" r="6.5"/><circle cx="878.3" cy="331.8" r="6.5"/><circle cx="880.8" cy="332.9" r="6.5"/><circle cx="882.9" cy="334.4" r="6.5"/><circle cx="884.9" cy="334.1" r="6.5"/><circle cx="886.6" cy="335.8" r="6.5"/><circle cx="888.8" cy="337.2" r="6.5"/><circle cx="890.8" cy="337.4" r="6.5"/><circle cx="892.4" cy="338.9" r="6.5"/><circle cx="894.0" cy="340.7" r="6.5"/><circle cx="895.7" cy="341.5" r="6.5"/><circle cx="898.6" cy="342.2" r="6.5"/><circle cx="900.6" cy="342.0" r="6.5"/><circle cx="902.6" cy="344.0" r="6.5"/><circle cx="904.4" cy="345.3" r="6.5"/><circle cx="906.5" cy="346.0" r="6.5"/><circle cx="908.6" cy="346.8" r="6.5"/><circle cx="910.3" cy="348.8" r="6.5"/><circle cx="912.5" cy="348.2" r="6.5"/><circle cx="913.9" cy="348.6" r="6.5"/><circle cx="916.3" cy="349.8" r="6.5"/><circle cx="918.5" cy="350.3" r="6.5"/><circle cx="920.4" cy="351.0" r="6.5"/><circle cx="922.0" cy="351.8" r="6.5"/><circle cx="923.8" cy="352.8" r="6.5"/><circle cx="926.5" cy="353.3" r="6.5"/><circle cx="927.8" cy="353.5" r="6.5"/><circle cx="930.7" cy="354.6" r="6.5"/><circle cx="931.9" cy="355.6" r="6.5"/><circle cx="934.7" cy="356.0" r="6.5"/><circle cx="936.1" cy="358.1" r="6.5"/><circle cx="938.8" cy="359.5" r="6.5"/><circle cx="939.9" cy="360.2" r="6.5"/><circle cx="941.8" cy="362.2" r="6.5"/><circle cx="944.5" cy="364.3" r="6.5"/><circle cx="946.7" cy="365.6" r="6.5"/><circle cx="948.1" cy="366.4" r="6.5"/><circle cx="950.3" cy="368.3" r="6.5"/><circle cx="952.5" cy="369.1" r="6.5"/><circle cx="954.0" cy="370.3" r="6.5"/><circle cx="956.2" cy="372.5" r="6.5"/><circle cx="958.4" cy="373.9" r="6.5"/><circle cx="960.0" cy="375.3" r="6.5"/><circle cx="961.8" cy="375.9" r="6.5"/><circle cx="964.8" cy="376.7" r="6.5"/><circle cx="965.8" cy="377.2" r="6.5"/><circle cx="968.9" cy="378.3" r="6.5"/><circle cx="970.8" cy="379.2" r="6.5"/><circle cx="972.2" cy="379.6" r="6.5"/><circle cx="974.8" cy="380.7" r="6.5"/><circle cx="975.7" cy="380.4" r="6.5"/><circle cx="978.4" cy="381.5" r="6.5"/><circle cx="980.1" cy="383.2" r="6.5"/><circle cx="982.0" cy="384.1" r="6.5"/><circle cx="984.8" cy="384.2" r="6.5"/><circle cx="985.7" cy="384.5" r="6.5"/><circle cx="988.8" cy="384.6" r="6.5"/><circle cx="989.7" cy="385.7" r="6.5"/><circle cx="992.5" cy="386.4" r="6.5"/><circle cx="994.0" cy="386.0" r="6.5"/><circle cx="996.3" cy="387.3" r="6.5"/><circle cx="998.9" cy="387.8" r="6.5"/><circle cx="1000.7" cy="388.3" r="6.5"/><circle cx="1001.8" cy="388.1" r="6.5"/><circle cx="1004.0" cy="389.4" r="6.5"/><circle cx="1006.3" cy="389.9" r="6.5"/><circle cx="1008.6" cy="392.5" r="6.5"/><circle cx="1009.6" cy="393.3" r="6.5"/><circle cx="1012.8" cy="394.1" r="6.5"/></g>
<path d="M136.5,561.0 L136.7,558.9 L136.9,556.7 L137.1,554.7 L137.2,552.8 L137.4,550.7 L137.6,548.6 L137.8,546.6 L138.0,545.0 L138.2,543.0 L138.4,541.0 L138.7,538.9 L138.9,536.9 L139.1,535.0 L139.3,532.8 L139.5,530.7 L139.7,528.7 L140.0,526.9 L140.2,525.0 L141.7,523.9 L143.4,522.9 L145.1,522.5 L146.8,523.3 L148.6,524.1 L150.3,525.2 L152.2,525.3 L154.2,524.9 L155.7,524.1 L156.3,522.4 L156.9,520.5 L157.5,518.4 L158.1,516.6 L158.6,514.6 L159.2,512.7 L160.2,510.9 L161.2,509.2 L162.2,507.4 L163.3,505.5 L164.3,503.8 L165.3,501.9 L167.2,501.1 L169.1,500.8 L171.0,500.1 L172.9,499.4 L174.7,498.6 L176.6,498.2 L178.5,497.5 L180.4,496.7 L182.3,496.2 L184.2,495.7 L186.2,495.5 L188.1,494.8 L189.9,494.0 L191.5,492.6 L193.0,491.3 L194.5,490.1 L196.0,488.6 L197.5,487.3 L199.1,485.9 L200.8,485.0 L202.7,484.1 L204.5,483.2 L206.3,482.2 L208.1,481.3 L210.1,480.9 L212.1,480.8 L214.1,480.6 L216.1,480.6 L218.1,480.7 L220.1,480.6 L222.1,480.6 L224.1,480.5 L226.1,480.7 L228.1,480.4 L230.1,480.3 L232.1,480.2 L234.1,480.2 L236.1,480.3 L238.1,480.2 L240.1,480.4 L242.1,480.4 L244.1,480.8 L246.1,480.9 L248.1,480.9 L250.1,480.8 L252.1,480.7 L254.1,480.9 L256.1,480.6 L258.1,480.5 L260.2,480.4 L262.2,480.3 L264.2,480.5 L266.2,480.4 L268.2,480.5 L270.2,480.4 L272.2,480.4 L274.2,480.5 L276.2,480.5 L278.2,480.6 L280.2,480.6 L282.2,480.7 L284.2,480.7 L286.2,480.5 L288.2,480.4 L290.2,480.3 L292.2,480.2 L294.2,480.1 L296.2,479.8 L298.2,480.0 L300.2,480.0 L302.2,480.2 L304.2,480.2 L306.2,480.2 L308.2,480.6 L310.3,480.6 L312.3,480.8 L314.3,480.7 L316.3,480.8 L318.3,481.0 L320.3,481.1 L322.3,481.1 L324.3,481.1 L326.3,481.1 L328.3,481.5 L330.3,481.4 L332.3,481.1 L334.3,481.3 L336.3,481.3 L338.3,481.6 L340.3,481.7 L342.3,481.9 L344.3,482.1 L346.3,482.1 L348.3,482.0 L350.3,481.7 L352.3,481.5 L354.3,481.2 L356.3,481.4 L358.3,481.5 L360.3,481.8 L362.3,482.1 L364.3,482.1 L366.3,482.5 L368.3,482.4 L370.4,482.4 L372.4,481.9 L374.4,482.0 L376.4,482.1 L378.4,481.9 L380.4,482.1 L382.4,482.3 L384.4,482.5 L386.4,482.4 L388.4,482.3 L390.4,482.4 L392.4,482.4 L394.4,482.4 L396.4,482.3 L398.4,482.1 L400.4,482.4 L402.4,482.3 L404.4,482.5 L406.4,482.4 L408.4,482.6 L410.4,482.9 L412.4,482.9 L414.4,483.1 L416.4,482.9 L418.5,482.8 L420.5,482.8 L422.5,482.8 L424.5,482.9 L426.5,483.1 L428.5,483.2 L430.5,483.3 L432.5,483.4 L434.5,483.2 L436.5,483.1 L438.5,482.7 L440.5,482.8 L442.5,482.7 L444.5,482.6 L446.5,482.5 L448.5,482.6 L450.5,482.6 L452.5,482.6 L454.5,482.6 L456.5,482.5 L458.5,482.8 L460.5,482.5 L462.3,481.7 L464.1,480.6 L465.8,479.6 L467.6,478.7 L469.4,477.7 L471.1,476.7 L472.9,475.8 L474.7,474.9 L476.4,474.1 L478.3,473.3 L480.3,472.9 L482.2,473.1 L484.2,472.6 L486.2,472.5 L488.2,472.5 L490.2,472.0 L492.2,471.6 L494.2,471.2 L496.2,471.1 L498.2,470.8 L500.1,470.5 L502.1,470.5 L504.1,470.3 L506.1,469.7 L508.1,469.5 L510.1,469.1 L512.1,468.8 L514.1,468.7 L516.1,468.5 L518.1,468.8 L520.1,468.7 L522.1,468.8 L524.1,468.5 L526.1,468.2 L528.1,468.2 L530.1,467.8 L532.1,467.4 L534.1,467.2 L536.1,467.2 L538.0,467.1 L540.0,467.0 L542.0,467.0 L544.0,467.0 L546.0,466.5 L548.0,466.3 L550.0,466.1 L552.0,466.2 L554.0,466.0 L556.1,465.8 L558.1,466.0 L560.1,466.1 L562.1,465.9 L564.1,465.7 L566.1,465.6 L568.1,465.6 L570.1,465.5 L572.1,465.2 L574.1,465.2 L576.1,465.1 L578.1,465.2 L580.1,465.1 L582.1,465.2 L584.1,465.4 L586.1,465.2 L588.1,465.2 L590.1,464.9 L592.1,465.0 L594.1,464.6 L596.1,464.3 L598.0,464.1 L600.0,463.6 L602.0,463.6 L604.0,463.1 L606.0,462.8 L608.0,462.4 L609.9,462.2 L611.9,462.2 L613.9,461.6 L615.9,461.4 L617.9,461.0 L619.9,460.7 L621.8,460.5 L623.8,460.3 L625.8,460.1 L627.8,459.5 L629.8,459.3 L631.8,459.1 L633.7,458.6 L635.7,458.1 L637.7,457.8 L639.7,457.5 L641.7,457.2 L643.6,456.8 L645.6,456.6 L647.6,456.2 L649.5,455.9 L651.5,455.8 L653.5,455.3 L655.4,454.8 L657.4,454.5 L659.4,454.2 L661.3,453.9 L663.3,453.4 L665.3,453.1 L667.2,452.5 L669.1,451.7 L670.9,450.9 L672.7,450.2 L674.5,449.5 L676.4,448.7 L678.2,448.1 L680.0,447.1 L681.8,446.1 L683.6,445.1 L685.4,444.0 L687.2,443.1 L689.0,442.2 L690.8,441.2 L692.6,440.2 L694.5,439.4 L696.5,438.8 L698.4,438.2 L700.3,437.8 L702.2,437.5 L704.2,437.1 L706.1,436.9 L708.0,436.5 L710.0,435.9 L711.9,435.7 L713.9,435.4 L715.9,435.0 L717.9,434.5 L719.9,434.1 L721.9,433.7 L723.8,433.5 L725.8,433.1 L727.8,432.8 L729.8,432.8 L731.8,432.8 L733.8,432.6 L735.8,432.4 L737.7,432.1 L739.7,431.8 L741.7,431.5 L743.7,431.0 L745.7,430.6 L747.7,430.5 L749.7,430.4 L751.7,430.2 L753.7,430.1 L755.7,430.2 L757.7,430.2 L759.7,430.0 L761.7,429.8 L763.7,429.8 L765.7,429.5 L767.7,429.2 L769.7,429.2 L771.7,428.9 L773.7,429.0 L775.7,428.8 L777.7,428.7 L779.7,428.7 L781.7,428.4 L783.7,428.4 L785.7,427.9 L787.7,427.9 L789.7,427.7 L791.7,427.7 L793.7,427.5 L795.7,427.3 L797.7,427.2 L799.7,426.9 L801.7,426.8 L803.7,426.4 L805.7,426.3 L807.7,426.2 L809.7,426.1 L811.7,425.9 L813.7,426.0 L815.7,425.7 L817.7,425.3 L819.7,425.2 L821.6,424.9 L823.6,424.8 L825.6,424.5 L827.6,424.4 L829.6,424.5 L831.6,424.2 L833.6,424.3 L835.6,424.3 L837.6,424.0 L839.6,423.9 L841.6,423.5 L843.6,423.4 L845.6,423.2 L847.6,422.7 L849.6,422.6 L851.6,422.3 L853.6,422.2 L855.6,421.8 L857.6,421.7 L859.6,421.9 L861.6,421.8 L863.6,421.9 L865.6,422.1 L867.6,422.1 L869.6,421.8 L871.6,422.1 L873.6,422.0 L875.6,422.1 L877.6,422.0 L879.6,422.4 L881.6,422.6 L883.6,422.6 L885.6,422.9 L887.6,423.2 L889.6,423.2 L891.6,423.6 L893.6,423.8 L895.6,424.0 L897.6,424.3 L899.6,424.4 L901.5,424.4 L903.5,424.6 L905.5,424.9 L907.5,424.9 L909.5,424.8 L911.5,424.9 L913.5,425.4 L915.5,425.4 L917.5,425.5 L919.5,425.8 L921.5,426.4 L923.5,426.7 L925.5,426.8 L927.5,427.0 L929.5,427.5 L931.5,427.7 L933.5,427.8 L935.4,427.8 L937.4,428.0 L939.4,428.3 L941.4,428.2 L943.4,428.4 L945.4,428.6 L947.4,429.0 L949.4,429.4 L951.4,429.6 L953.4,429.8 L955.4,429.8 L957.4,430.2 L959.4,430.2 L961.4,430.2 L963.4,430.3 L965.4,430.5 L967.4,430.6 L969.4,430.3 L971.4,430.6 L973.4,430.9 L975.4,431.0 L977.4,431.1 L979.4,431.5 L981.4,431.6 L983.4,431.7 L985.4,431.6 L987.4,431.5 L989.4,431.7 L991.4,431.8 L993.4,432.0 L995.4,432.2 L997.4,432.3 L999.4,432.3 L1001.4,432.3 L1003.4,432.3 L1005.3,433.1 L1007.2,433.6 L1009.1,434.2 L1011.0,435.1 L1012.9,435.7 L1014.8,436.5 L1016.7,436.9 L1018.6,437.5 L1020.5,438.1 L1022.4,438.6 L1024.3,439.3 L1026.2,439.9 L1028.1,440.6 L1030.0,441.0" fill="none" stroke="#000000" stroke-width="7.5" stroke-linejoin="round" stroke-linecap="butt"/>
<path d="M460.7,482.5 L568.8,482.5" fill="none" stroke="#000000" stroke-width="5.6" stroke-dasharray="20.2 8.7" stroke-linecap="butt"/>
</g>
<path d="M471.5,255.8 L471.5,1.8" stroke="#000000" stroke-width="5.6" stroke-dasharray="20.6 9.4" fill="none"/>
<path d="M590.3,255.8 L590.3,1.8" stroke="#b22222" stroke-width="5.6" stroke-dasharray="20.6 9.4" fill="none"/>
<path d="M709.6,255.8 L709.6,1.8" stroke="#ff4500" stroke-width="5.6" stroke-dasharray="20.6 9.4" fill="none"/>
<path d="M828.1,255.8 L828.1,1.8" stroke="#2e8b57" stroke-width="5.6" stroke-dasharray="20.6 9.4" fill="none"/>
<rect x="136.2" y="1.8" width="886.8" height="254.0" fill="none" stroke="#000" stroke-width="4.0" stroke-linejoin="miter"/>
<line x1="136.2" y1="255.8" x2="136.2" y2="271.3" stroke="#000" stroke-width="4.0"/>
<line x1="352.5" y1="255.8" x2="352.5" y2="271.3" stroke="#000" stroke-width="4.0"/>
<line x1="568.8" y1="255.8" x2="568.8" y2="271.3" stroke="#000" stroke-width="4.0"/>
<line x1="785.2" y1="255.8" x2="785.2" y2="271.3" stroke="#000" stroke-width="4.0"/>
<line x1="1001.5" y1="255.8" x2="1001.5" y2="271.3" stroke="#000" stroke-width="4.0"/>
<rect x="136.2" y="306.8" width="886.8" height="254.2" fill="none" stroke="#000" stroke-width="4.0" stroke-linejoin="miter"/>
<line x1="136.2" y1="561.0" x2="136.2" y2="576.5" stroke="#000" stroke-width="4.0"/>
<line x1="352.5" y1="561.0" x2="352.5" y2="576.5" stroke="#000" stroke-width="4.0"/>
<line x1="568.8" y1="561.0" x2="568.8" y2="576.5" stroke="#000" stroke-width="4.0"/>
<line x1="785.2" y1="561.0" x2="785.2" y2="576.5" stroke="#000" stroke-width="4.0"/>
<line x1="1001.5" y1="561.0" x2="1001.5" y2="576.5" stroke="#000" stroke-width="4.0"/>
<rect x="136.2" y="611.8" width="886.8" height="254.0" fill="none" stroke="#000" stroke-width="4.0" stroke-linejoin="miter"/>
<line x1="136.2" y1="865.8" x2="136.2" y2="881.3" stroke="#000" stroke-width="4.0"/>
<line x1="352.5" y1="865.8" x2="352.5" y2="881.3" stroke="#000" stroke-width="4.0"/>
<line x1="568.8" y1="865.8" x2="568.8" y2="881.3" stroke="#000" stroke-width="4.0"/>
<line x1="785.2" y1="865.8" x2="785.2" y2="881.3" stroke="#000" stroke-width="4.0"/>
<line x1="1001.5" y1="865.8" x2="1001.5" y2="881.3" stroke="#000" stroke-width="4.0"/>
<line x1="120.69999999999999" y1="255.8" x2="136.2" y2="255.8" stroke="#000" stroke-width="4.0"/>
<line x1="120.69999999999999" y1="51.2" x2="136.2" y2="51.2" stroke="#000" stroke-width="4.0"/>
<line x1="120.69999999999999" y1="561.0" x2="136.2" y2="561.0" stroke="#000" stroke-width="4.0"/>
<line x1="120.69999999999999" y1="433.9" x2="136.2" y2="433.9" stroke="#000" stroke-width="4.0"/>
<line x1="120.69999999999999" y1="306.8" x2="136.2" y2="306.8" stroke="#000" stroke-width="4.0"/>
<line x1="120.69999999999999" y1="865.8" x2="136.2" y2="865.8" stroke="#000" stroke-width="4.0"/>
<line x1="120.69999999999999" y1="738.8" x2="136.2" y2="738.8" stroke="#000" stroke-width="4.0"/>
<line x1="120.69999999999999" y1="611.8" x2="136.2" y2="611.8" stroke="#000" stroke-width="4.0"/>
<clipPath id="c3"><rect x="0" y="613.8" width="1021" height="252"/></clipPath>
<g clip-path="url(#c3)" fill="#008000">
<circle cx="137.5" cy="826" r="6.5"/><circle cx="142" cy="746.8" r="6.5"/><circle cx="145.3" cy="695.9" r="6.5"/><circle cx="148.7" cy="633.9" r="6.5"/><circle cx="166.7" cy="616.2" r="6.5"/><circle cx="184.6" cy="615.9" r="6.5"/><circle cx="169.8" cy="623.7" r="6.5"/><circle cx="178.4" cy="626.9" r="6.5"/><circle cx="188.5" cy="628.4" r="6.5"/><circle cx="173.7" cy="636.2" r="6.5"/><circle cx="181.5" cy="638.6" r="6.5"/><circle cx="195.6" cy="640.9" r="6.5"/><circle cx="191.7" cy="645.6" r="6.5"/><circle cx="199.5" cy="663.5" r="6.5"/><circle cx="206.5" cy="669" r="6.5"/><circle cx="211.2" cy="664.3" r="6.5"/><circle cx="217.4" cy="668.2" r="6.5"/><circle cx="220.5" cy="680.7" r="6.5"/><circle cx="224.4" cy="653.4" r="6.5"/><circle cx="227.6" cy="659.6" r="6.5"/><circle cx="238.5" cy="650.3" r="6.5"/><circle cx="242.4" cy="658.1" r="6.5"/><circle cx="234.6" cy="670.6" r="6.5"/><circle cx="245.5" cy="667.4" r="6.5"/><circle cx="253.3" cy="667.4" r="6.5"/><circle cx="260.3" cy="657.3" r="6.5"/><circle cx="267.4" cy="674.5" r="6.5"/><circle cx="278.3" cy="649.5" r="6.5"/><circle cx="272.1" cy="664.3" r="6.5"/><circle cx="284.5" cy="665.9" r="6.5"/><circle cx="285.6" cy="670" r="6.5"/><circle cx="291.1" cy="657.1" r="6.5"/><circle cx="300.4" cy="652.4" r="6.5"/><circle cx="296.7" cy="665.4" r="6.5"/><circle cx="307.8" cy="661.7" r="6.5"/><circle cx="310.6" cy="672.8" r="6.5"/><circle cx="318.9" cy="670" r="6.5"/><circle cx="322.6" cy="663.6" r="6.5"/><circle cx="325.4" cy="650.6" r="6.5"/><circle cx="332.8" cy="674.7" r="6.5"/><circle cx="335.6" cy="658.9" r="6.5"/><circle cx="343" cy="659.9" r="6.5"/><circle cx="350.4" cy="663.6" r="6.5"/><circle cx="354.2" cy="653.4" r="6.5"/><circle cx="361.6" cy="668.2" r="6.5"/><circle cx="357.9" cy="660.8" r="6.5"/><circle cx="369" cy="650.6" r="6.5"/><circle cx="367.1" cy="657.1" r="6.5"/><circle cx="375.5" cy="670" r="6.5"/><circle cx="378.3" cy="653.4" r="6.5"/><circle cx="386.6" cy="659.9" r="6.5"/><circle cx="384.7" cy="650.6" r="6.5"/><circle cx="394" cy="646" r="6.5"/><circle cx="398.7" cy="660.8" r="6.5"/><circle cx="404.2" cy="646.9" r="6.5"/><circle cx="408.8" cy="661.7" r="6.5"/><circle cx="419" cy="641.3" r="6.5"/><circle cx="415.3" cy="657.1" r="6.5"/><circle cx="424.6" cy="650.6" r="6.5"/><circle cx="429.2" cy="661.7" r="6.5"/><circle cx="440.4" cy="671" r="6.5"/><circle cx="435.7" cy="662.6" r="6.5"/><circle cx="444.1" cy="658" r="6.5"/><circle cx="450.6" cy="657.1" r="6.5"/><circle cx="455.2" cy="671.9" r="6.5"/><circle cx="458.9" cy="651.5" r="6.5"/><circle cx="462.6" cy="735.6" r="6.5"/><circle cx="466.3" cy="759" r="6.5"/>
<circle cx="471.4" cy="769.3" r="6.5"/><circle cx="473.8" cy="768.7" r="6.5"/><circle cx="476.1" cy="768.0" r="6.5"/><circle cx="477.7" cy="767.3" r="6.5"/><circle cx="479.6" cy="767.6" r="6.5"/><circle cx="481.9" cy="766.7" r="6.5"/><circle cx="483.9" cy="766.3" r="6.5"/><circle cx="485.7" cy="766.2" r="6.5"/><circle cx="488.6" cy="765.3" r="6.5"/><circle cx="490.6" cy="764.7" r="6.5"/><circle cx="491.4" cy="766.1" r="6.5"/><circle cx="494.0" cy="765.9" r="6.5"/><circle cx="495.7" cy="765.2" r="6.5"/><circle cx="497.8" cy="764.9" r="6.5"/><circle cx="499.4" cy="767.5" r="6.5"/><circle cx="501.4" cy="764.4" r="6.5"/><circle cx="503.4" cy="764.8" r="6.5"/><circle cx="505.5" cy="765.2" r="6.5"/><circle cx="508.2" cy="763.8" r="6.5"/><circle cx="509.4" cy="765.0" r="6.5"/><circle cx="512.5" cy="766.6" r="6.5"/><circle cx="514.4" cy="765.7" r="6.5"/><circle cx="515.7" cy="765.4" r="6.5"/><circle cx="518.3" cy="765.3" r="6.5"/><circle cx="520.6" cy="764.8" r="6.5"/><circle cx="521.5" cy="765.6" r="6.5"/><circle cx="524.1" cy="764.4" r="6.5"/><circle cx="526.0" cy="764.1" r="6.5"/><circle cx="527.7" cy="764.6" r="6.5"/><circle cx="529.7" cy="765.4" r="6.5"/><circle cx="531.4" cy="764.7" r="6.5"/><circle cx="534.2" cy="765.0" r="6.5"/><circle cx="535.6" cy="762.3" r="6.5"/><circle cx="537.9" cy="765.5" r="6.5"/><circle cx="540.6" cy="766.6" r="6.5"/><circle cx="541.8" cy="765.5" r="6.5"/><circle cx="543.8" cy="763.8" r="6.5"/><circle cx="546.6" cy="763.2" r="6.5"/><circle cx="548.1" cy="764.3" r="6.5"/><circle cx="550.1" cy="763.0" r="6.5"/><circle cx="551.6" cy="764.7" r="6.5"/><circle cx="554.2" cy="763.5" r="6.5"/><circle cx="555.8" cy="765.0" r="6.5"/><circle cx="558.1" cy="765.4" r="6.5"/><circle cx="559.9" cy="762.0" r="6.5"/><circle cx="561.4" cy="764.3" r="6.5"/><circle cx="564.5" cy="763.3" r="6.5"/><circle cx="566.3" cy="762.6" r="6.5"/><circle cx="568.6" cy="763.4" r="6.5"/><circle cx="569.7" cy="763.8" r="6.5"/><circle cx="571.7" cy="765.0" r="6.5"/><circle cx="573.5" cy="762.5" r="6.5"/><circle cx="575.7" cy="765.1" r="6.5"/><circle cx="577.8" cy="766.0" r="6.5"/><circle cx="579.6" cy="764.6" r="6.5"/><circle cx="581.7" cy="764.5" r="6.5"/><circle cx="583.7" cy="764.0" r="6.5"/><circle cx="586.5" cy="762.8" r="6.5"/><circle cx="587.9" cy="764.5" r="6.5"/><circle cx="590.4" cy="764.4" r="6.5"/><circle cx="591.4" cy="764.9" r="6.5"/><circle cx="593.6" cy="767.0" r="6.5"/><circle cx="596.6" cy="765.3" r="6.5"/><circle cx="597.4" cy="765.2" r="6.5"/><circle cx="599.4" cy="766.6" r="6.5"/><circle cx="602.0" cy="763.9" r="6.5"/><circle cx="603.7" cy="764.3" r="6.5"/><circle cx="605.6" cy="765.2" r="6.5"/><circle cx="608.1" cy="765.1" r="6.5"/><circle cx="610.1" cy="766.7" r="6.5"/><circle cx="611.6" cy="765.9" r="6.5"/><circle cx="614.1" cy="768.3" r="6.5"/><circle cx="615.9" cy="768.3" r="6.5"/><circle cx="618.5" cy="767.8" r="6.5"/><circle cx="619.4" cy="766.9" r="6.5"/><circle cx="621.6" cy="768.2" r="6.5"/><circle cx="624.1" cy="768.6" r="6.5"/><circle cx="625.4" cy="767.0" r="6.5"/><circle cx="628.5" cy="768.7" r="6.5"/><circle cx="630.6" cy="769.3" r="6.5"/><circle cx="631.8" cy="769.0" r="6.5"/><circle cx="634.4" cy="770.7" r="6.5"/><circle cx="635.7" cy="770.6" r="6.5"/><circle cx="638.6" cy="768.8" r="6.5"/><circle cx="639.6" cy="770.0" r="6.5"/><circle cx="641.3" cy="769.3" r="6.5"/><circle cx="643.4" cy="771.0" r="6.5"/><circle cx="645.9" cy="769.8" r="6.5"/><circle cx="647.4" cy="771.8" r="6.5"/><circle cx="650.6" cy="771.5" r="6.5"/><circle cx="652.2" cy="772.4" r="6.5"/><circle cx="654.1" cy="771.5" r="6.5"/><circle cx="656.2" cy="770.5" r="6.5"/><circle cx="657.9" cy="773.9" r="6.5"/><circle cx="660.5" cy="772.3" r="6.5"/><circle cx="662.3" cy="774.1" r="6.5"/><circle cx="663.9" cy="773.4" r="6.5"/><circle cx="665.7" cy="773.9" r="6.5"/><circle cx="667.5" cy="775.3" r="6.5"/><circle cx="669.8" cy="774.1" r="6.5"/><circle cx="671.8" cy="775.4" r="6.5"/><circle cx="673.4" cy="772.7" r="6.5"/><circle cx="676.6" cy="775.4" r="6.5"/><circle cx="677.7" cy="774.5" r="6.5"/><circle cx="680.1" cy="774.9" r="6.5"/><circle cx="681.4" cy="775.4" r="6.5"/><circle cx="684.1" cy="776.1" r="6.5"/><circle cx="686.2" cy="777.7" r="6.5"/><circle cx="687.4" cy="774.6" r="6.5"/><circle cx="690.6" cy="776.8" r="6.5"/><circle cx="691.6" cy="776.4" r="6.5"/><circle cx="693.7" cy="778.7" r="6.5"/><circle cx="696.3" cy="777.5" r="6.5"/><circle cx="697.8" cy="778.7" r="6.5"/><circle cx="700.5" cy="778.2" r="6.5"/><circle cx="701.7" cy="779.6" r="6.5"/><circle cx="703.8" cy="780.3" r="6.5"/><circle cx="706.3" cy="779.3" r="6.5"/><circle cx="708.5" cy="780.1" r="6.5"/><circle cx="710.5" cy="779.0" r="6.5"/><circle cx="711.7" cy="781.1" r="6.5"/><circle cx="714.0" cy="782.0" r="6.5"/><circle cx="715.9" cy="780.9" r="6.5"/><circle cx="718.2" cy="783.0" r="6.5"/><circle cx="719.6" cy="780.1" r="6.5"/><circle cx="722.5" cy="780.7" r="6.5"/><circle cx="724.3" cy="781.5" r="6.5"/><circle cx="725.6" cy="782.8" r="6.5"/><circle cx="727.8" cy="783.7" r="6.5"/><circle cx="729.8" cy="783.9" r="6.5"/><circle cx="732.6" cy="784.2" r="6.5"/><circle cx="733.9" cy="785.3" r="6.5"/><circle cx="736.2" cy="784.4" r="6.5"/><circle cx="738.6" cy="783.9" r="6.5"/><circle cx="739.9" cy="784.2" r="6.5"/><circle cx="742.6" cy="787.8" r="6.5"/><circle cx="743.7" cy="783.6" r="6.5"/><circle cx="745.4" cy="786.1" r="6.5"/><circle cx="747.5" cy="788.0" r="6.5"/><circle cx="750.3" cy="787.3" r="6.5"/><circle cx="751.8" cy="786.3" r="6.5"/><circle cx="754.4" cy="787.4" r="6.5"/><circle cx="756.0" cy="788.5" r="6.5"/><circle cx="758.2" cy="789.1" r="6.5"/><circle cx="759.8" cy="787.3" r="6.5"/><circle cx="762.1" cy="789.2" r="6.5"/><circle cx="764.3" cy="789.0" r="6.5"/><circle cx="765.8" cy="790.1" r="6.5"/><circle cx="768.0" cy="790.7" r="6.5"/><circle cx="770.5" cy="789.3" r="6.5"/><circle cx="772.6" cy="788.4" r="6.5"/><circle cx="773.8" cy="790.6" r="6.5"/><circle cx="775.4" cy="792.2" r="6.5"/><circle cx="778.5" cy="791.4" r="6.5"/><circle cx="779.9" cy="791.2" r="6.5"/><circle cx="782.6" cy="793.8" r="6.5"/><circle cx="784.4" cy="790.7" r="6.5"/><circle cx="785.8" cy="793.0" r="6.5"/><circle cx="788.5" cy="791.9" r="6.5"/><circle cx="790.1" cy="792.8" r="6.5"/><circle cx="792.3" cy="793.2" r="6.5"/><circle cx="794.5" cy="795.0" r="6.5"/><circle cx="796.1" cy="792.9" r="6.5"/><circle cx="798.6" cy="793.7" r="6.5"/><circle cx="799.9" cy="793.0" r="6.5"/><circle cx="801.8" cy="795.4" r="6.5"/><circle cx="804.2" cy="794.9" r="6.5"/><circle cx="805.9" cy="796.0" r="6.5"/><circle cx="808.3" cy="794.7" r="6.5"/><circle cx="810.0" cy="795.5" r="6.5"/><circle cx="812.3" cy="797.1" r="6.5"/><circle cx="814.4" cy="796.0" r="6.5"/><circle cx="816.1" cy="797.0" r="6.5"/><circle cx="818.6" cy="797.1" r="6.5"/><circle cx="820.4" cy="796.3" r="6.5"/><circle cx="822.5" cy="795.3" r="6.5"/><circle cx="823.4" cy="798.0" r="6.5"/><circle cx="825.4" cy="797.4" r="6.5"/><circle cx="828.2" cy="798.3" r="6.5"/><circle cx="829.8" cy="795.5" r="6.5"/><circle cx="832.5" cy="795.7" r="6.5"/><circle cx="833.9" cy="795.2" r="6.5"/><circle cx="836.3" cy="796.3" r="6.5"/><circle cx="837.7" cy="798.1" r="6.5"/><circle cx="840.2" cy="797.6" r="6.5"/><circle cx="842.5" cy="794.4" r="6.5"/><circle cx="844.5" cy="791.9" r="6.5"/><circle cx="845.8" cy="790.0" r="6.5"/><circle cx="848.0" cy="786.3" r="6.5"/><circle cx="850.0" cy="784.4" r="6.5"/><circle cx="851.8" cy="782.1" r="6.5"/><circle cx="854.0" cy="777.8" r="6.5"/><circle cx="856.6" cy="777.6" r="6.5"/><circle cx="858.5" cy="777.4" r="6.5"/><circle cx="859.8" cy="773.6" r="6.5"/><circle cx="862.2" cy="771.9" r="6.5"/><circle cx="864.6" cy="769.4" r="6.5"/><circle cx="865.8" cy="767.5" r="6.5"/><circle cx="868.5" cy="767.1" r="6.5"/><circle cx="870.4" cy="764.6" r="6.5"/><circle cx="872.5" cy="762.7" r="6.5"/><circle cx="873.4" cy="759.5" r="6.5"/><circle cx="876.6" cy="761.0" r="6.5"/><circle cx="878.6" cy="758.5" r="6.5"/><circle cx="879.7" cy="757.5" r="6.5"/><circle cx="882.2" cy="759.0" r="6.5"/><circle cx="883.5" cy="757.8" r="6.5"/><circle cx="886.1" cy="754.0" r="6.5"/><circle cx="888.3" cy="755.7" r="6.5"/><circle cx="890.3" cy="754.2" r="6.5"/><circle cx="892.5" cy="751.8" r="6.5"/><circle cx="893.7" cy="752.2" r="6.5"/><circle cx="895.5" cy="749.5" r="6.5"/><circle cx="898.4" cy="749.6" r="6.5"/><circle cx="899.4" cy="749.1" r="6.5"/><circle cx="901.6" cy="749.1" r="6.5"/><circle cx="903.6" cy="750.7" r="6.5"/><circle cx="906.4" cy="748.2" r="6.5"/><circle cx="907.9" cy="748.0" r="6.5"/><circle cx="910.5" cy="747.9" r="6.5"/><circle cx="912.2" cy="748.7" r="6.5"/><circle cx="914.5" cy="747.8" r="6.5"/><circle cx="916.4" cy="748.7" r="6.5"/><circle cx="918.5" cy="746.8" r="6.5"/><circle cx="919.7" cy="745.9" r="6.5"/><circle cx="921.8" cy="746.3" r="6.5"/><circle cx="924.2" cy="746.5" r="6.5"/><circle cx="926.1" cy="745.2" r="6.5"/><circle cx="928.4" cy="746.1" r="6.5"/><circle cx="930.4" cy="747.3" r="6.5"/><circle cx="931.7" cy="744.8" r="6.5"/><circle cx="933.5" cy="745.2" r="6.5"/><circle cx="936.3" cy="746.4" r="6.5"/><circle cx="938.2" cy="744.2" r="6.5"/><circle cx="939.7" cy="743.9" r="6.5"/><circle cx="941.4" cy="743.5" r="6.5"/><circle cx="943.4" cy="744.8" r="6.5"/><circle cx="945.7" cy="744.8" r="6.5"/><circle cx="947.7" cy="744.0" r="6.5"/><circle cx="949.6" cy="744.0" r="6.5"/><circle cx="951.4" cy="745.1" r="6.5"/><circle cx="953.6" cy="744.6" r="6.5"/><circle cx="955.8" cy="742.2" r="6.5"/><circle cx="957.5" cy="743.4" r="6.5"/><circle cx="959.6" cy="743.3" r="6.5"/><circle cx="961.9" cy="743.7" r="6.5"/><circle cx="964.5" cy="742.5" r="6.5"/><circle cx="966.5" cy="741.9" r="6.5"/><circle cx="967.9" cy="741.8" r="6.5"/><circle cx="969.5" cy="740.3" r="6.5"/><circle cx="971.7" cy="741.8" r="6.5"/><circle cx="974.2" cy="741.1" r="6.5"/><circle cx="975.9" cy="741.9" r="6.5"/><circle cx="978.1" cy="740.2" r="6.5"/><circle cx="980.3" cy="740.6" r="6.5"/><circle cx="982.2" cy="739.8" r="6.5"/><circle cx="984.5" cy="739.5" r="6.5"/><circle cx="985.4" cy="741.1" r="6.5"/><circle cx="987.7" cy="739.7" r="6.5"/><circle cx="989.4" cy="740.4" r="6.5"/><circle cx="992.0" cy="738.6" r="6.5"/><circle cx="994.2" cy="739.6" r="6.5"/><circle cx="995.7" cy="737.6" r="6.5"/><circle cx="997.4" cy="738.6" r="6.5"/><circle cx="1000.0" cy="739.6" r="6.5"/><circle cx="1001.6" cy="743.0" r="6.5"/><circle cx="1003.6" cy="745.0" r="6.5"/><circle cx="1005.8" cy="747.0" r="6.5"/><circle cx="1008.6" cy="750.3" r="6.5"/><circle cx="1009.8" cy="752.0" r="6.5"/><circle cx="1012.3" cy="754.6" r="6.5"/><circle cx="1013.8" cy="757.1" r="6.5"/><circle cx="1015.9" cy="758.4" r="6.5"/><circle cx="1017.5" cy="760.4" r="6.5"/><circle cx="1019.6" cy="763.3" r="6.5"/><circle cx="1022.4" cy="764.3" r="6.5"/><circle cx="1023.9" cy="766.8" r="6.5"/><circle cx="1025.7" cy="769.3" r="6.5"/><circle cx="1028.6" cy="770.7" r="6.5"/><circle cx="1030.5" cy="771.2" r="6.5"/><circle cx="1031.7" cy="772.1" r="6.5"/><circle cx="1033.9" cy="775.0" r="6.5"/>
</g>
<g clip-path="url(#c2)" fill="#e377c2">
<circle cx="459.4" cy="767.3" r="5.3"/><circle cx="462.7" cy="771.1" r="5.3"/><circle cx="463.5" cy="774.2" r="5.3"/><circle cx="465.7" cy="776.4" r="5.3"/><circle cx="468.6" cy="779.3" r="5.3"/><circle cx="470.6" cy="777.8" r="5.3"/><circle cx="471.6" cy="780.8" r="5.3"/><circle cx="474.3" cy="780.6" r="5.3"/><circle cx="476.2" cy="784.3" r="5.3"/><circle cx="477.9" cy="782.9" r="5.3"/><circle cx="480.4" cy="783.4" r="5.3"/><circle cx="482.2" cy="781.6" r="5.3"/><circle cx="483.6" cy="782.4" r="5.3"/><circle cx="486.0" cy="779.9" r="5.3"/><circle cx="488.3" cy="779.4" r="5.3"/><circle cx="490.2" cy="775.9" r="5.3"/><circle cx="492.1" cy="777.9" r="5.3"/><circle cx="494.3" cy="775.9" r="5.3"/><circle cx="495.5" cy="774.9" r="5.3"/><circle cx="497.4" cy="774.4" r="5.3"/><circle cx="499.4" cy="771.8" r="5.3"/><circle cx="502.2" cy="771.6" r="5.3"/><circle cx="503.9" cy="772.2" r="5.3"/><circle cx="506.4" cy="771.7" r="5.3"/><circle cx="508.6" cy="770.8" r="5.3"/><circle cx="509.5" cy="770.9" r="5.3"/><circle cx="511.8" cy="770.1" r="5.3"/><circle cx="513.9" cy="771.1" r="5.3"/><circle cx="516.1" cy="771.1" r="5.3"/><circle cx="518.5" cy="770.0" r="5.3"/><circle cx="520.1" cy="771.6" r="5.3"/><circle cx="521.7" cy="768.0" r="5.3"/><circle cx="524.2" cy="769.1" r="5.3"/><circle cx="525.8" cy="770.8" r="5.3"/><circle cx="528.1" cy="768.4" r="5.3"/><circle cx="529.5" cy="767.0" r="5.3"/><circle cx="532.1" cy="769.7" r="5.3"/><circle cx="534.0" cy="768.5" r="5.3"/><circle cx="536.2" cy="766.3" r="5.3"/><circle cx="538.1" cy="767.9" r="5.3"/><circle cx="540.1" cy="765.8" r="5.3"/><circle cx="542.3" cy="765.1" r="5.3"/><circle cx="543.5" cy="765.9" r="5.3"/><circle cx="546.3" cy="765.2" r="5.3"/><circle cx="548.2" cy="764.2" r="5.3"/><circle cx="550.3" cy="764.6" r="5.3"/><circle cx="551.9" cy="763.9" r="5.3"/><circle cx="553.4" cy="764.9" r="5.3"/><circle cx="556.6" cy="764.7" r="5.3"/><circle cx="558.4" cy="765.4" r="5.3"/><circle cx="560.6" cy="764.1" r="5.3"/><circle cx="561.9" cy="763.2" r="5.3"/><circle cx="564.5" cy="763.1" r="5.3"/><circle cx="566.5" cy="764.1" r="5.3"/><circle cx="568.1" cy="765.9" r="5.3"/><circle cx="570.5" cy="765.1" r="5.3"/><circle cx="572.4" cy="763.9" r="5.3"/><circle cx="573.5" cy="765.9" r="5.3"/><circle cx="575.5" cy="764.1" r="5.3"/><circle cx="577.9" cy="766.6" r="5.3"/><circle cx="580.0" cy="765.6" r="5.3"/><circle cx="582.2" cy="767.1" r="5.3"/><circle cx="584.1" cy="767.3" r="5.3"/><circle cx="586.5" cy="766.7" r="5.3"/><circle cx="588.4" cy="767.6" r="5.3"/><circle cx="589.5" cy="766.6" r="5.3"/><circle cx="591.8" cy="767.8" r="5.3"/><circle cx="594.5" cy="769.2" r="5.3"/><circle cx="596.3" cy="772.5" r="5.3"/><circle cx="597.4" cy="769.3" r="5.3"/><circle cx="600.2" cy="768.9" r="5.3"/><circle cx="601.5" cy="768.0" r="5.3"/><circle cx="604.0" cy="770.3" r="5.3"/><circle cx="606.7" cy="767.8" r="5.3"/><circle cx="607.4" cy="768.9" r="5.3"/><circle cx="610.4" cy="770.3" r="5.3"/><circle cx="612.0" cy="768.9" r="5.3"/><circle cx="614.6" cy="771.8" r="5.3"/><circle cx="616.5" cy="771.5" r="5.3"/><circle cx="617.4" cy="769.9" r="5.3"/><circle cx="620.2" cy="770.1" r="5.3"/><circle cx="622.5" cy="769.5" r="5.3"/><circle cx="623.7" cy="769.5" r="5.3"/><circle cx="626.3" cy="771.5" r="5.3"/><circle cx="627.7" cy="771.8" r="5.3"/><circle cx="629.6" cy="771.7" r="5.3"/><circle cx="631.8" cy="771.8" r="5.3"/><circle cx="633.7" cy="771.1" r="5.3"/><circle cx="636.6" cy="772.2" r="5.3"/><circle cx="637.6" cy="770.5" r="5.3"/><circle cx="639.9" cy="772.1" r="5.3"/><circle cx="642.0" cy="773.7" r="5.3"/><circle cx="644.3" cy="773.7" r="5.3"/><circle cx="646.6" cy="772.1" r="5.3"/><circle cx="648.2" cy="772.4" r="5.3"/><circle cx="650.5" cy="774.3" r="5.3"/><circle cx="651.5" cy="774.9" r="5.3"/><circle cx="654.2" cy="771.9" r="5.3"/><circle cx="655.6" cy="773.1" r="5.3"/><circle cx="658.5" cy="774.0" r="5.3"/><circle cx="660.1" cy="775.2" r="5.3"/><circle cx="661.5" cy="773.3" r="5.3"/><circle cx="664.5" cy="775.0" r="5.3"/><circle cx="666.0" cy="774.3" r="5.3"/><circle cx="668.0" cy="777.1" r="5.3"/><circle cx="669.4" cy="775.4" r="5.3"/><circle cx="672.5" cy="775.0" r="5.3"/><circle cx="674.0" cy="775.0" r="5.3"/><circle cx="676.5" cy="776.6" r="5.3"/><circle cx="677.4" cy="776.4" r="5.3"/><circle cx="680.2" cy="774.9" r="5.3"/><circle cx="681.8" cy="776.4" r="5.3"/><circle cx="684.0" cy="775.1" r="5.3"/><circle cx="686.2" cy="775.9" r="5.3"/><circle cx="688.4" cy="775.6" r="5.3"/><circle cx="690.6" cy="775.8" r="5.3"/><circle cx="691.6" cy="776.7" r="5.3"/><circle cx="694.5" cy="776.7" r="5.3"/><circle cx="695.5" cy="778.4" r="5.3"/><circle cx="697.3" cy="778.9" r="5.3"/><circle cx="699.7" cy="778.1" r="5.3"/><circle cx="701.7" cy="777.5" r="5.3"/><circle cx="704.4" cy="779.6" r="5.3"/><circle cx="706.1" cy="777.0" r="5.3"/><circle cx="707.9" cy="777.4" r="5.3"/><circle cx="710.4" cy="780.3" r="5.3"/><circle cx="712.6" cy="780.5" r="5.3"/><circle cx="714.2" cy="781.0" r="5.3"/><circle cx="716.2" cy="780.1" r="5.3"/><circle cx="718.5" cy="779.2" r="5.3"/><circle cx="719.7" cy="780.2" r="5.3"/><circle cx="722.7" cy="781.6" r="5.3"/><circle cx="723.6" cy="780.5" r="5.3"/><circle cx="725.4" cy="780.8" r="5.3"/><circle cx="728.4" cy="780.3" r="5.3"/><circle cx="729.6" cy="780.8" r="5.3"/><circle cx="731.8" cy="783.0" r="5.3"/><circle cx="734.0" cy="782.8" r="5.3"/><circle cx="735.5" cy="781.4" r="5.3"/><circle cx="737.9" cy="781.7" r="5.3"/><circle cx="739.8" cy="782.4" r="5.3"/><circle cx="741.4" cy="783.7" r="5.3"/><circle cx="744.1" cy="782.2" r="5.3"/><circle cx="745.9" cy="783.4" r="5.3"/><circle cx="747.5" cy="781.6" r="5.3"/><circle cx="750.4" cy="782.7" r="5.3"/><circle cx="751.9" cy="784.6" r="5.3"/><circle cx="753.4" cy="785.3" r="5.3"/><circle cx="756.5" cy="783.4" r="5.3"/><circle cx="757.9" cy="784.0" r="5.3"/><circle cx="759.5" cy="785.8" r="5.3"/><circle cx="761.7" cy="784.8" r="5.3"/><circle cx="763.7" cy="784.8" r="5.3"/><circle cx="765.4" cy="786.1" r="5.3"/><circle cx="767.8" cy="786.0" r="5.3"/><circle cx="769.6" cy="787.1" r="5.3"/><circle cx="771.6" cy="787.0" r="5.3"/><circle cx="774.2" cy="785.8" r="5.3"/><circle cx="775.5" cy="786.4" r="5.3"/><circle cx="777.4" cy="786.7" r="5.3"/><circle cx="779.6" cy="785.6" r="5.3"/><circle cx="781.7" cy="786.3" r="5.3"/><circle cx="783.6" cy="788.7" r="5.3"/><circle cx="786.1" cy="786.4" r="5.3"/><circle cx="788.5" cy="789.4" r="5.3"/><circle cx="790.4" cy="789.0" r="5.3"/><circle cx="792.0" cy="789.0" r="5.3"/><circle cx="794.4" cy="790.0" r="5.3"/><circle cx="796.4" cy="790.3" r="5.3"/><circle cx="798.2" cy="791.4" r="5.3"/><circle cx="800.4" cy="790.2" r="5.3"/><circle cx="801.8" cy="790.7" r="5.3"/><circle cx="804.3" cy="791.0" r="5.3"/><circle cx="806.0" cy="793.5" r="5.3"/><circle cx="808.3" cy="792.8" r="5.3"/><circle cx="810.3" cy="791.1" r="5.3"/><circle cx="811.4" cy="791.9" r="5.3"/><circle cx="814.4" cy="791.8" r="5.3"/><circle cx="815.4" cy="792.7" r="5.3"/><circle cx="817.9" cy="793.2" r="5.3"/><circle cx="820.1" cy="795.5" r="5.3"/><circle cx="822.4" cy="791.6" r="5.3"/><circle cx="823.4" cy="794.7" r="5.3"/><circle cx="826.2" cy="794.3" r="5.3"/><circle cx="827.8" cy="793.4" r="5.3"/><circle cx="829.4" cy="794.2" r="5.3"/><circle cx="831.8" cy="794.1" r="5.3"/><circle cx="834.2" cy="794.9" r="5.3"/><circle cx="835.4" cy="796.1" r="5.3"/><circle cx="838.5" cy="793.8" r="5.3"/><circle cx="839.4" cy="796.9" r="5.3"/><circle cx="841.7" cy="791.6" r="5.3"/><circle cx="843.8" cy="790.0" r="5.3"/><circle cx="845.4" cy="785.3" r="5.3"/><circle cx="848.6" cy="782.6" r="5.3"/><circle cx="850.6" cy="779.2" r="5.3"/><circle cx="852.5" cy="777.9" r="5.3"/><circle cx="853.6" cy="775.0" r="5.3"/><circle cx="856.4" cy="772.4" r="5.3"/><circle cx="857.8" cy="772.4" r="5.3"/><circle cx="859.7" cy="770.9" r="5.3"/><circle cx="862.3" cy="770.8" r="5.3"/><circle cx="863.4" cy="765.2" r="5.3"/><circle cx="865.3" cy="765.5" r="5.3"/><circle cx="868.6" cy="765.6" r="5.3"/><circle cx="869.8" cy="762.5" r="5.3"/><circle cx="872.4" cy="762.7" r="5.3"/><circle cx="873.9" cy="764.2" r="5.3"/><circle cx="875.5" cy="762.7" r="5.3"/><circle cx="878.0" cy="759.6" r="5.3"/><circle cx="879.6" cy="761.1" r="5.3"/><circle cx="881.4" cy="760.0" r="5.3"/><circle cx="883.4" cy="758.8" r="5.3"/><circle cx="885.9" cy="757.6" r="5.3"/><circle cx="887.7" cy="756.7" r="5.3"/><circle cx="889.8" cy="754.7" r="5.3"/><circle cx="892.6" cy="754.3" r="5.3"/><circle cx="894.4" cy="754.7" r="5.3"/><circle cx="896.3" cy="753.8" r="5.3"/><circle cx="897.7" cy="755.2" r="5.3"/><circle cx="900.3" cy="752.6" r="5.3"/><circle cx="902.3" cy="750.2" r="5.3"/><circle cx="904.0" cy="752.0" r="5.3"/><circle cx="905.7" cy="752.2" r="5.3"/><circle cx="907.6" cy="752.0" r="5.3"/><circle cx="909.9" cy="751.4" r="5.3"/><circle cx="911.7" cy="750.1" r="5.3"/><circle cx="914.5" cy="752.1" r="5.3"/><circle cx="916.0" cy="749.6" r="5.3"/><circle cx="918.2" cy="750.7" r="5.3"/><circle cx="920.5" cy="749.4" r="5.3"/><circle cx="922.2" cy="748.1" r="5.3"/><circle cx="923.5" cy="750.4" r="5.3"/><circle cx="925.8" cy="746.1" r="5.3"/><circle cx="928.6" cy="747.5" r="5.3"/><circle cx="929.4" cy="748.4" r="5.3"/><circle cx="931.6" cy="747.5" r="5.3"/><circle cx="934.2" cy="748.4" r="5.3"/><circle cx="936.5" cy="747.4" r="5.3"/><circle cx="938.4" cy="746.9" r="5.3"/><circle cx="940.3" cy="749.4" r="5.3"/><circle cx="942.3" cy="746.9" r="5.3"/><circle cx="943.8" cy="746.8" r="5.3"/><circle cx="945.4" cy="745.7" r="5.3"/><circle cx="948.2" cy="745.9" r="5.3"/><circle cx="949.4" cy="747.1" r="5.3"/><circle cx="952.4" cy="746.9" r="5.3"/><circle cx="953.5" cy="746.2" r="5.3"/><circle cx="955.4" cy="745.4" r="5.3"/><circle cx="958.7" cy="746.7" r="5.3"/><circle cx="959.6" cy="744.3" r="5.3"/><circle cx="962.1" cy="745.7" r="5.3"/><circle cx="963.4" cy="745.9" r="5.3"/><circle cx="966.6" cy="745.3" r="5.3"/><circle cx="967.4" cy="746.4" r="5.3"/><circle cx="970.3" cy="745.6" r="5.3"/><circle cx="972.5" cy="745.5" r="5.3"/><circle cx="973.7" cy="748.2" r="5.3"/><circle cx="975.3" cy="747.1" r="5.3"/><circle cx="977.4" cy="747.6" r="5.3"/><circle cx="979.4" cy="746.5" r="5.3"/><circle cx="982.3" cy="747.5" r="5.3"/><circle cx="984.0" cy="747.4" r="5.3"/><circle cx="986.5" cy="747.8" r="5.3"/><circle cx="988.2" cy="749.0" r="5.3"/><circle cx="990.1" cy="746.5" r="5.3"/><circle cx="991.6" cy="747.0" r="5.3"/><circle cx="993.6" cy="746.8" r="5.3"/><circle cx="996.6" cy="743.3" r="5.3"/><circle cx="998.6" cy="745.5" r="5.3"/><circle cx="999.9" cy="747.0" r="5.3"/><circle cx="1002.4" cy="747.6" r="5.3"/>
</g>
<text x="104.8" y="271.8" font-family="Liberation Serif" font-size="46.5" text-anchor="end">0</text>
<text x="104.8" y="67.2" font-family="Liberation Serif" font-size="46.5" text-anchor="end">5</text>
<text x="104.8" y="577.0" font-family="Liberation Serif" font-size="46.5" text-anchor="end">0</text>
<text x="104.8" y="449.9" font-family="Liberation Serif" font-size="46.5" text-anchor="end">10</text>
<text x="104.8" y="322.8" font-family="Liberation Serif" font-size="46.5" text-anchor="end">20</text>
<text x="104.8" y="881.8" font-family="Liberation Serif" font-size="46.5" text-anchor="end">0</text>
<text x="104.8" y="754.8" font-family="Liberation Serif" font-size="46.5" text-anchor="end">2</text>
<text x="104.8" y="627.8" font-family="Liberation Serif" font-size="46.5" text-anchor="end">4</text>
<text x="136.2" y="928.3" font-family="Liberation Serif" font-size="46.5" text-anchor="middle">0</text>
<text x="352.5" y="928.3" font-family="Liberation Serif" font-size="46.5" text-anchor="middle">2</text>
<text x="568.8" y="928.3" font-family="Liberation Serif" font-size="46.5" text-anchor="middle">4</text>
<text x="785.2" y="928.3" font-family="Liberation Serif" font-size="46.5" text-anchor="middle">6</text>
<text x="1001.5" y="928.3" font-family="Liberation Serif" font-size="46.5" text-anchor="middle">8</text>
<text x="579" y="988.4" font-family="Liberation Serif" font-size="45.7" text-anchor="middle">Time in s</text>
<text transform="translate(56,128.8) rotate(-90)" font-family="Liberation Serif" font-size="36.6" text-anchor="middle">P in MW</text>
<text transform="translate(30.5,435.6) rotate(-90)" font-family="Liberation Serif" font-size="37.5" text-anchor="middle">n<tspan font-size="26" dy="5.5">e</tspan><tspan dy="-5.5"> in 10</tspan><tspan font-size="26" dy="-14">19</tspan><tspan dy="14"> in m</tspan><tspan font-size="26" dy="-14">−3</tspan></text>
<text transform="translate(54.2,741.2) rotate(-90)" font-family="Liberation Serif" font-size="37.5" text-anchor="middle">T<tspan font-size="26" dy="5.5">e,<tspan dx="2">i</tspan></tspan><tspan dy="-5.5"> in keV</tspan></text>
<text x="470.0" y="889.5" font-family="Liberation Serif" font-size="33" fill="#000000" text-anchor="middle">t<tspan font-size="23" dy="5">0</tspan></text>
<text x="588.8" y="889.5" font-family="Liberation Serif" font-size="33" fill="#b22222" text-anchor="middle">t<tspan font-size="23" dy="5">1</tspan></text>
<text x="708.1" y="889.5" font-family="Liberation Serif" font-size="33" fill="#ff4500" text-anchor="middle">t<tspan font-size="23" dy="5">2</tspan></text>
<text x="826.6" y="889.5" font-family="Liberation Serif" font-size="33" fill="#2e8b57" text-anchor="middle">t<tspan font-size="23" dy="5">3</tspan></text>
<rect x="152.5" y="16.9" width="609.6999999999999" height="55.199999999999996" rx="6.4" ry="6.4" fill="#ffffff" fill-opacity="0.9" stroke="#cccccc" stroke-opacity="0.9" stroke-width="4.4"/>
<line x1="161.2" y1="41.5" x2="232.1" y2="41.5" stroke="#1f77b4" stroke-width="6.9"/>
<line x1="396" y1="41.5" x2="465.6" y2="41.5" stroke="#008000" stroke-width="6.9"/>
<line x1="607.4" y1="41.5" x2="677.6" y2="41.5" stroke="#d62728" stroke-width="6.9"/>
<text x="254.0" y="51.5" font-family="Liberation Serif" font-size="32.4">P<tspan font-size="22.7" dy="4">ECRH</tspan></text>
<text x="488.0" y="51.5" font-family="Liberation Serif" font-size="32.4">P<tspan font-size="22.7" dy="4">NBI</tspan></text>
<text x="699.6" y="51.5" font-family="Liberation Serif" font-size="32.4">P<tspan font-size="22.7" dy="4">rad</tspan></text>
<rect x="153.39999999999998" y="324.4" width="184.4" height="110.00000000000003" rx="6.4" ry="6.4" fill="#ffffff" fill-opacity="0.9" stroke="#cccccc" stroke-opacity="0.9" stroke-width="4.4"/>
<line x1="161.4" y1="351.2" x2="231.7" y2="351.2" stroke="#000" stroke-width="6.9"/>
<circle cx="196.6" cy="405.8" r="6.5" fill="#008000"/>
<path d="M272.6,337 C271.5,334.6 268.2,335.2 266.6,339.2 C265.2,343 263.8,352 262.3,359 C260.8,366 259.6,371.6 256.6,371.4" fill="none" stroke="#000" stroke-width="2.4" stroke-linecap="round"/>
<circle cx="272.4" cy="337.4" r="2.1" fill="#000"/><circle cx="256.8" cy="369.8" r="2.1" fill="#000"/>
<text x="268.6" y="361.9" font-family="Liberation Serif" font-size="32.4">n<tspan font-size="22.7" dy="4">e</tspan></text>
<text x="299.7" y="361.9" font-family="Liberation Serif" font-size="32.4">dl</text>
<text x="254" y="410.5" font-family="Liberation Serif" font-size="32.4">n<tspan font-size="22.7" dy="4">e,<tspan dx="2.9">0</tspan></tspan></text>
<rect x="152.39999999999998" y="745.0" width="168.9" height="104.6" rx="6.4" ry="6.4" fill="#ffffff" fill-opacity="0.9" stroke="#cccccc" stroke-opacity="0.9" stroke-width="4.4"/>
<circle cx="196.5" cy="772.1" r="6.5" fill="#008000"/>
<circle cx="196.5" cy="819.7" r="4.7" fill="#e377c2"/>
<text x="254" y="779.5" font-family="Liberation Serif" font-size="32.4">T<tspan font-size="22.7" dy="4">e,<tspan dx="2.9">0</tspan></tspan></text>
<text x="254" y="826.8" font-family="Liberation Serif" font-size="32.4">T<tspan font-size="22.7" dy="4">i,<tspan dx="2.9">0</tspan></tspan></text>
</svg></body></html>
